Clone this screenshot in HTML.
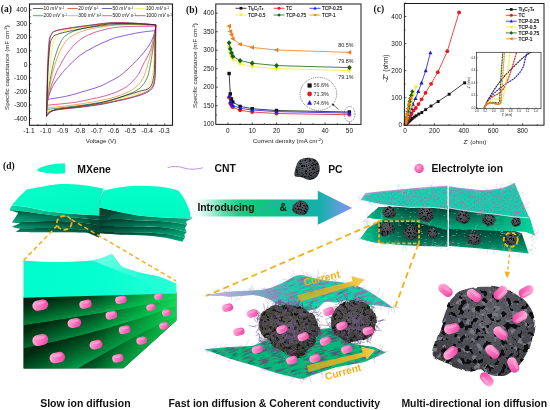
<!DOCTYPE html>
<html><head><meta charset="utf-8"><title>Figure</title>
<style>html,body{margin:0;padding:0;background:#fff;}svg{display:block;}
svg text{font-family:"Liberation Sans",sans-serif;}</style></head>
<body>
<svg width="550" height="410" viewBox="0 0 550 410">
<rect width="550" height="410" fill="#ffffff"/>
<g id="panel_a">
<g fill="none" stroke-width="0.75" stroke-linejoin="round">
<path d="M47.2 99.4C48.2 97.0 51.2 89.0 53.4 85.1C55.5 81.1 58.2 78.2 60.1 75.7C62.0 73.2 63.2 71.8 64.8 70.0C66.4 68.2 66.9 67.5 69.5 65.0C72.1 62.5 76.2 58.2 80.2 55.2C84.2 52.2 88.7 49.8 93.6 47.2C98.5 44.6 105.3 41.6 109.7 39.8C114.1 38.0 115.0 37.7 120.1 36.5C125.2 35.3 134.3 33.4 140.2 32.4C146.1 31.4 153.0 30.9 155.6 30.6M155.6 30.6C154.6 32.9 152.2 40.2 149.6 44.5C147.0 48.8 143.1 53.2 140.2 56.6C137.3 60.0 135.5 61.8 132.2 65.0C128.8 68.2 124.3 72.7 120.1 75.7C115.8 78.7 110.0 81.3 106.7 83.1C103.4 84.9 103.3 85.1 100.0 86.3C96.7 87.5 92.4 88.9 86.9 90.5C81.4 92.1 73.4 94.6 66.8 96.1C60.2 97.6 50.5 98.9 47.2 99.4" stroke="#6a28c8"/>
<path d="M47.0 105.2C47.6 102.3 49.2 93.2 50.7 87.8C52.2 82.4 54.6 76.7 56.1 73.0C57.6 69.3 58.2 68.7 60.0 65.5C61.8 62.3 63.9 57.9 66.8 53.9C69.7 49.9 73.5 45.1 77.5 41.8C81.5 38.4 85.6 36.0 91.0 33.8C96.4 31.6 103.7 29.6 109.7 28.4C115.7 27.2 119.1 27.0 126.8 26.6C134.5 26.2 150.9 26.3 155.7 26.2M155.7 26.2C154.9 29.9 153.1 42.0 151.0 48.5C148.9 55.0 145.2 60.5 142.9 65.0C140.7 69.5 140.2 72.1 137.5 75.7C134.8 79.3 130.8 83.6 126.8 86.5C122.8 89.4 117.9 91.4 113.4 93.2C108.9 95.0 103.3 96.3 100.0 97.2C96.7 98.1 98.0 97.6 93.6 98.5C89.2 99.4 81.3 101.4 73.5 102.5C65.7 103.6 51.4 104.8 47.0 105.2" stroke="#d42a78"/>
<path d="M46.9 107.4C47.2 104.5 47.9 96.2 49.0 90.0C50.1 83.8 51.8 76.0 53.4 70.0C55.0 64.0 56.8 58.6 58.8 53.9C60.8 49.2 63.0 44.9 65.5 41.8C68.0 38.7 69.9 37.1 73.5 35.1C77.1 33.1 81.3 31.3 86.9 29.8C92.5 28.3 99.8 26.9 107.0 26.0C114.2 25.1 121.9 24.7 130.0 24.6C138.1 24.5 151.5 25.3 155.8 25.4M155.8 25.4C155.4 28.1 155.0 35.2 153.6 41.8C152.2 48.4 149.4 58.9 147.6 65.0C145.8 71.1 145.0 74.6 142.9 78.4C140.8 82.2 138.0 85.2 134.9 87.8C131.8 90.4 128.8 91.9 124.1 93.8C119.4 95.7 114.0 97.5 106.7 99.2C99.4 100.9 87.8 102.8 80.0 104.0C72.2 105.2 65.5 106.0 60.0 106.6C54.5 107.2 49.1 107.3 46.9 107.4" stroke="#e8902a"/>
<path d="M46.8 109.5C47.1 106.2 47.6 96.6 48.5 90.0C49.4 83.4 50.8 76.0 52.0 70.0C53.2 64.0 54.4 58.8 56.0 53.9C57.6 49.0 59.5 43.9 61.5 40.5C63.5 37.1 65.1 35.7 68.2 33.8C71.3 31.9 76.0 30.3 80.2 29.1C84.4 27.9 88.1 27.6 93.6 26.8C99.1 26.1 106.1 25.0 113.0 24.6C119.9 24.2 127.9 24.2 135.0 24.3C142.1 24.4 152.3 25.1 155.8 25.2M155.8 25.2C155.6 27.7 155.2 33.4 154.3 40.0C153.4 46.6 151.5 58.6 150.3 65.0C149.1 71.4 148.6 74.6 146.9 78.4C145.2 82.2 143.1 85.2 140.2 87.8C137.3 90.4 134.0 91.9 129.5 93.8C125.0 95.7 118.3 97.8 113.4 99.2C108.5 100.7 105.6 101.5 100.0 102.5C94.4 103.5 86.7 104.6 80.0 105.5C73.3 106.4 65.5 107.3 60.0 108.0C54.5 108.7 49.0 109.2 46.8 109.5" stroke="#1f7a3a"/>
<path d="M46.7 111.5C46.9 107.9 47.5 96.9 48.0 90.0C48.5 83.1 49.3 76.9 50.0 70.0C50.7 63.1 51.1 53.9 52.0 48.5C52.9 43.1 53.8 40.6 55.4 37.8C57.0 35.0 58.5 33.3 61.5 31.8C64.5 30.3 68.2 30.0 73.5 29.0C78.8 28.0 87.0 26.5 93.6 25.6C100.2 24.7 106.1 23.9 113.0 23.6C119.9 23.3 127.9 23.6 135.0 23.8C142.1 24.0 152.3 24.8 155.8 25.0M155.8 25.0C155.7 27.5 155.4 33.3 155.0 40.0C154.6 46.7 154.2 58.6 153.6 65.0C153.0 71.4 152.5 74.7 151.6 78.4C150.7 82.1 150.0 84.8 148.3 87.1C146.6 89.4 145.2 90.9 141.6 92.5C138.0 94.1 133.7 94.6 126.8 96.5C119.9 98.4 107.8 102.2 100.0 103.9C92.2 105.6 86.7 105.7 80.0 106.5C73.3 107.3 64.7 108.2 60.0 108.8C55.3 109.4 54.2 109.5 52.0 110.0C49.8 110.5 47.6 111.2 46.7 111.5" stroke="#f2ea2c"/>
<path d="M46.6 114.0C46.7 110.0 47.2 97.6 47.4 90.0C47.6 82.4 47.6 76.6 47.9 68.6C48.2 60.6 48.8 47.5 49.4 41.8C50.0 36.1 50.6 36.3 51.5 34.5C52.4 32.7 52.2 32.1 54.8 31.1C57.3 30.1 60.3 29.5 66.8 28.4C73.3 27.3 85.8 25.7 93.6 24.7C101.4 23.7 106.5 22.9 113.4 22.6C120.3 22.4 127.9 22.8 135.0 23.2C142.1 23.6 152.3 24.5 155.8 24.8M155.8 24.8C155.8 27.3 155.7 33.3 155.7 40.0C155.7 46.7 155.7 58.6 155.6 65.0C155.5 71.4 155.4 74.7 155.0 78.4C154.6 82.1 154.3 84.8 153.0 87.1C151.7 89.4 150.2 90.8 146.9 92.5C143.7 94.2 139.1 95.6 133.5 97.2C127.9 98.8 119.0 100.7 113.4 101.9C107.8 103.1 105.6 103.7 100.0 104.6C94.4 105.5 86.3 106.5 80.0 107.3C73.7 108.1 66.2 108.7 62.0 109.2C57.8 109.7 56.8 109.9 55.0 110.2C53.2 110.5 52.1 110.8 51.0 111.2C49.9 111.6 49.1 111.9 48.4 112.4C47.7 112.9 46.9 113.7 46.6 114.0" stroke="#2a2a8c"/>
<path d="M46.5 116.0C46.6 111.7 46.8 97.9 47.0 90.0C47.2 82.1 47.2 76.6 47.5 68.6C47.8 60.6 48.4 47.6 49.0 42.0C49.6 36.4 50.1 36.6 51.0 34.8C51.9 33.0 51.9 32.4 54.5 31.4C57.1 30.4 60.3 29.9 66.8 28.8C73.3 27.7 85.8 26.0 93.6 25.0C101.4 24.0 106.5 23.2 113.4 22.9C120.3 22.6 127.9 23.1 135.0 23.4C142.1 23.7 152.3 24.6 155.8 24.8M155.8 24.8C155.8 27.3 155.6 33.3 155.5 40.0C155.4 46.7 155.5 58.6 155.3 65.0C155.2 71.4 155.1 74.8 154.6 78.4C154.1 82.0 153.8 84.2 152.4 86.5C151.0 88.8 149.2 90.3 146.0 92.0C142.8 93.7 138.9 95.0 133.5 96.6C128.1 98.1 119.0 100.1 113.4 101.3C107.8 102.5 105.6 103.1 100.0 104.0C94.4 104.9 86.3 106.0 80.0 106.8C73.7 107.6 66.0 108.4 62.0 108.9C58.0 109.4 57.7 109.5 56.0 109.8C54.3 110.1 53.1 110.5 52.0 111.0C50.9 111.5 50.1 112.0 49.4 112.6C48.7 113.2 48.1 113.8 47.6 114.4C47.1 115.0 46.7 115.7 46.5 116.0" stroke="#d8262a"/>
<path d="M46.5 116.6C46.6 112.2 47.0 98.0 47.2 90.0C47.5 82.0 47.5 76.1 48.0 68.6C48.5 61.1 49.3 50.0 50.0 45.0C50.7 40.0 51.1 40.1 52.0 38.5C52.9 36.9 52.9 36.2 55.4 35.1C57.9 34.0 60.4 33.2 66.8 31.8C73.2 30.4 85.8 27.8 93.6 26.4C101.4 25.0 106.5 24.0 113.4 23.6C120.3 23.2 127.9 23.6 135.0 23.8C142.1 24.0 152.3 24.6 155.8 24.8M155.8 24.8C155.7 27.3 155.2 33.3 155.0 40.0C154.8 46.7 154.9 58.6 154.6 65.0C154.3 71.4 154.2 74.6 153.4 78.4C152.6 82.2 151.8 85.7 149.6 87.8C147.4 89.9 144.0 89.9 140.2 91.1C136.4 92.3 131.3 93.8 126.8 95.2C122.3 96.6 117.9 98.2 113.4 99.5C108.9 100.8 105.6 101.9 100.0 103.0C94.4 104.1 86.3 105.3 80.0 106.2C73.7 107.1 65.9 107.9 62.0 108.4C58.1 108.9 58.1 109.0 56.5 109.4C54.9 109.8 53.7 110.3 52.6 110.8C51.5 111.3 50.6 112.0 49.8 112.6C49.0 113.2 48.3 113.9 47.8 114.6C47.2 115.3 46.7 116.3 46.5 116.6" stroke="#222222"/>
</g>
<rect x="29.5" y="4.0" width="143.0" height="121.3" fill="none" stroke="#1a1a1a" stroke-width="1.1"/>
<path d="M38.0 125.3v-1.2M46.4 125.3v-2M54.9 125.3v-1.2M63.3 125.3v-2M71.8 125.3v-1.2M80.2 125.3v-2M88.7 125.3v-1.2M97.1 125.3v-2M105.6 125.3v-1.2M114.0 125.3v-2M122.5 125.3v-1.2M130.9 125.3v-2M139.4 125.3v-1.2M147.8 125.3v-2M156.2 125.3v-1.2M164.7 125.3v-2M29.5 118.6h2M29.5 111.8h1.2M29.5 105.0h2M29.5 98.2h1.2M29.5 91.4h2M29.5 84.7h1.2M29.5 77.9h2M29.5 71.1h1.2M29.5 64.3h2M29.5 57.5h1.2M29.5 50.7h2M29.5 43.9h1.2M29.5 37.2h2M29.5 30.4h1.2M29.5 23.6h2M29.5 16.8h1.2M29.5 10.0h2" stroke="#1a1a1a" stroke-width="0.7" fill="none"/>
<g font-size="6.6" fill="#111">
<text x="28.9" y="133.4" text-anchor="middle">-1.1</text>
<text x="45.8" y="133.4" text-anchor="middle">-1.0</text>
<text x="62.7" y="133.4" text-anchor="middle">-0.9</text>
<text x="79.6" y="133.4" text-anchor="middle">-0.8</text>
<text x="96.5" y="133.4" text-anchor="middle">-0.7</text>
<text x="113.4" y="133.4" text-anchor="middle">-0.6</text>
<text x="130.3" y="133.4" text-anchor="middle">-0.5</text>
<text x="147.2" y="133.4" text-anchor="middle">-0.4</text>
<text x="164.1" y="133.4" text-anchor="middle">-0.3</text>
<text x="27.3" y="120.8" text-anchor="end">-400</text>
<text x="27.3" y="107.2" text-anchor="end">-300</text>
<text x="27.3" y="93.6" text-anchor="end">-200</text>
<text x="27.3" y="80.1" text-anchor="end">-100</text>
<text x="27.3" y="66.5" text-anchor="end">0</text>
<text x="27.3" y="52.9" text-anchor="end">100</text>
<text x="27.3" y="39.4" text-anchor="end">200</text>
<text x="27.3" y="25.8" text-anchor="end">300</text>
<text x="27.3" y="12.2" text-anchor="end">400</text>
</g>
<text x="101" y="143.2" font-size="6.2" fill="#222" text-anchor="middle">Voltage (V)</text>
<text transform="translate(9.4,67.6) rotate(-90)" font-size="6.2" fill="#222" text-anchor="middle">Specific capacitance (mF cm<tspan dy="-2" font-size="4">-2</tspan><tspan dy="2">)</tspan></text>
<text x="0.8" y="12.2" style="font-family:'Liberation Serif',serif" font-weight="bold" font-size="9.5" fill="#111">(a)</text>
<g font-size="4.9" fill="#111">
<path d="M32.9 8.5h10.4" stroke="#222222" stroke-width="0.7"/>
<text x="43.5" y="10.2">10 <tspan font-style="italic">mV s</tspan><tspan dy="-1.7" font-size="2.9">-1</tspan></text>
<path d="M67.6 8.5h10.4" stroke="#d8262a" stroke-width="0.7"/>
<text x="78.2" y="10.2">20 <tspan font-style="italic">mV s</tspan><tspan dy="-1.7" font-size="2.9">-1</tspan></text>
<path d="M101.9 8.5h10.4" stroke="#2a2a8c" stroke-width="0.7"/>
<text x="112.5" y="10.2">50 <tspan font-style="italic">mV s</tspan><tspan dy="-1.7" font-size="2.9">-1</tspan></text>
<path d="M135.3 8.5h10.4" stroke="#f2ea2c" stroke-width="0.7"/>
<text x="145.9" y="10.2">100 <tspan font-style="italic">mV s</tspan><tspan dy="-1.7" font-size="2.9">-1</tspan></text>
<path d="M32.9 15.7h10.4" stroke="#1f7a3a" stroke-width="0.7"/>
<text x="43.5" y="17.4">200 <tspan font-style="italic">mV s</tspan><tspan dy="-1.7" font-size="2.9">-1</tspan></text>
<path d="M67.6 15.7h10.4" stroke="#e8902a" stroke-width="0.7"/>
<text x="78.2" y="17.4">300 <tspan font-style="italic">mV s</tspan><tspan dy="-1.7" font-size="2.9">-1</tspan></text>
<path d="M101.9 15.7h10.4" stroke="#d42a78" stroke-width="0.7"/>
<text x="112.5" y="17.4">500 <tspan font-style="italic">mV s</tspan><tspan dy="-1.7" font-size="2.9">-1</tspan></text>
<path d="M135.3 15.7h10.4" stroke="#6a28c8" stroke-width="0.7"/>
<text x="145.9" y="17.4">1000 <tspan font-style="italic">mV s</tspan><tspan dy="-1.7" font-size="2.9">-1</tspan></text>
</g>
</g>
<g id="panel_b">
<path d="M229.1 47.2L230.3 53.5L231.5 56.9L232.8 59.1L240.1 63.9L252.2 66.5L276.5 68.7L349.4 70.5" fill="none" stroke="#f5ee1c" stroke-width="0.8"/>
<path d="M229.1 49.9L231.4 45.4L226.8 45.4Z" fill="#f5ee1c"/>
<path d="M230.3 56.2L232.6 51.7L228.0 51.7Z" fill="#f5ee1c"/>
<path d="M231.5 59.5L233.8 55.0L229.2 55.0Z" fill="#f5ee1c"/>
<path d="M232.8 61.7L235.1 57.2L230.5 57.2Z" fill="#f5ee1c"/>
<path d="M240.1 66.5L242.4 62.0L237.8 62.0Z" fill="#f5ee1c"/>
<path d="M252.2 69.1L254.5 64.6L249.9 64.6Z" fill="#f5ee1c"/>
<path d="M276.5 71.3L278.8 66.9L274.2 66.9Z" fill="#f5ee1c"/>
<path d="M349.4 73.2L351.7 68.7L347.1 68.7Z" fill="#f5ee1c"/>
<path d="M229.1 42.8L230.3 48.9L231.5 52.9L232.8 56.3L240.1 60.6L252.2 63.2L276.5 65.6L349.4 67.6" fill="none" stroke="#14640f" stroke-width="0.8"/>
<path d="M229.1 40.2L231.5 42.8L229.1 45.4L226.7 42.8Z" fill="#14640f"/>
<path d="M230.3 46.3L232.7 48.9L230.3 51.5L227.9 48.9Z" fill="#14640f"/>
<path d="M231.5 50.3L234.0 52.9L231.5 55.5L229.1 52.9Z" fill="#14640f"/>
<path d="M232.8 53.7L235.2 56.3L232.8 58.9L230.3 56.3Z" fill="#14640f"/>
<path d="M240.1 57.9L242.5 60.6L240.1 63.2L237.6 60.6Z" fill="#14640f"/>
<path d="M252.2 60.5L254.6 63.2L252.2 65.8L249.8 63.2Z" fill="#14640f"/>
<path d="M276.5 62.9L278.9 65.6L276.5 68.2L274.1 65.6Z" fill="#14640f"/>
<path d="M349.4 64.9L351.8 67.6L349.4 70.2L347.0 67.6Z" fill="#14640f"/>
<path d="M229.1 26.1L230.3 31.5L231.5 34.8L232.8 38.7L240.1 44.3L252.2 47.4L276.5 50.0L349.4 52.4" fill="none" stroke="#ee7d1a" stroke-width="0.8"/>
<path d="M226.5 26.1L231.0 23.8L231.0 28.4Z" fill="#ee7d1a"/>
<path d="M227.7 31.5L232.2 29.2L232.2 33.8Z" fill="#ee7d1a"/>
<path d="M228.9 34.8L233.4 32.5L233.4 37.1Z" fill="#ee7d1a"/>
<path d="M230.1 38.7L234.6 36.4L234.6 41.0Z" fill="#ee7d1a"/>
<path d="M237.4 44.3L241.9 42.0L241.9 46.6Z" fill="#ee7d1a"/>
<path d="M249.6 47.4L254.0 45.1L254.0 49.7Z" fill="#ee7d1a"/>
<path d="M273.9 50.0L278.3 47.7L278.3 52.3Z" fill="#ee7d1a"/>
<path d="M346.8 52.4L351.2 50.1L351.2 54.7Z" fill="#ee7d1a"/>
<path d="M229.1 73.5L230.3 93.9L231.5 99.0L232.8 102.0L240.1 106.4L252.2 108.7L276.5 110.5L349.4 112.0" fill="none" stroke="#111111" stroke-width="0.8"/>
<rect x="227.4" y="71.8" width="3.4" height="3.4" fill="#111111"/>
<rect x="228.6" y="92.2" width="3.4" height="3.4" fill="#111111"/>
<rect x="229.8" y="97.3" width="3.4" height="3.4" fill="#111111"/>
<rect x="231.1" y="100.3" width="3.4" height="3.4" fill="#111111"/>
<rect x="238.4" y="104.7" width="3.4" height="3.4" fill="#111111"/>
<rect x="250.5" y="107.0" width="3.4" height="3.4" fill="#111111"/>
<rect x="274.8" y="108.8" width="3.4" height="3.4" fill="#111111"/>
<rect x="347.7" y="110.3" width="3.4" height="3.4" fill="#111111"/>
<path d="M229.1 97.6L230.3 103.5L231.5 105.7L232.8 107.2L240.1 110.3L252.2 112.0L276.5 113.5L349.4 114.8" fill="none" stroke="#e8191c" stroke-width="0.8"/>
<circle cx="229.1" cy="97.6" r="1.9" fill="#e8191c"/>
<circle cx="230.3" cy="103.5" r="1.9" fill="#e8191c"/>
<circle cx="231.5" cy="105.7" r="1.9" fill="#e8191c"/>
<circle cx="232.8" cy="107.2" r="1.9" fill="#e8191c"/>
<circle cx="240.1" cy="110.3" r="1.9" fill="#e8191c"/>
<circle cx="252.2" cy="112.0" r="1.9" fill="#e8191c"/>
<circle cx="276.5" cy="113.5" r="1.9" fill="#e8191c"/>
<circle cx="349.4" cy="114.8" r="1.9" fill="#e8191c"/>
<path d="M229.1 96.1L230.3 101.6L231.5 103.9L232.8 105.3L240.1 108.3L252.2 110.0L276.5 111.6L349.4 113.1" fill="none" stroke="#1a1ad8" stroke-width="0.8"/>
<path d="M229.1 93.8L231.1 97.7L227.1 97.7Z" fill="#1a1ad8"/>
<path d="M230.3 99.3L232.3 103.2L228.3 103.2Z" fill="#1a1ad8"/>
<path d="M231.5 101.6L233.5 105.5L229.5 105.5Z" fill="#1a1ad8"/>
<path d="M232.8 103.0L234.8 106.9L230.8 106.9Z" fill="#1a1ad8"/>
<path d="M240.1 106.0L242.1 109.9L238.1 109.9Z" fill="#1a1ad8"/>
<path d="M252.2 107.7L254.2 111.6L250.2 111.6Z" fill="#1a1ad8"/>
<path d="M276.5 109.3L278.5 113.2L274.5 113.2Z" fill="#1a1ad8"/>
<path d="M349.4 110.8L351.4 114.7L347.4 114.7Z" fill="#1a1ad8"/>
<rect x="215.8" y="4.0" width="145.2" height="120.4" fill="none" stroke="#1a1a1a" stroke-width="1"/>
<path d="M227.9 124.4v-2M240.1 124.4v-1.2M252.2 124.4v-2M264.4 124.4v-1.2M276.5 124.4v-2M288.7 124.4v-1.2M300.8 124.4v-2M313.0 124.4v-1.2M325.1 124.4v-2M337.2 124.4v-1.2M349.4 124.4v-2M215.8 115.0h1.2M215.8 105.7h2M215.8 96.5h1.2M215.8 87.2h2M215.8 78.0h1.2M215.8 68.7h2M215.8 59.5h1.2M215.8 50.2h2M215.8 41.0h1.2M215.8 31.7h2M215.8 22.4h1.2M215.8 13.2h2" stroke="#1a1a1a" stroke-width="0.7" fill="none"/>
<g font-size="6.4" fill="#111">
<text x="227.9" y="133.2" text-anchor="middle">0</text>
<text x="252.2" y="133.2" text-anchor="middle">10</text>
<text x="276.5" y="133.2" text-anchor="middle">20</text>
<text x="300.8" y="133.2" text-anchor="middle">30</text>
<text x="325.1" y="133.2" text-anchor="middle">40</text>
<text x="349.4" y="133.2" text-anchor="middle">50</text>
<text x="214" y="126.4" text-anchor="end">100</text>
<text x="214" y="107.9" text-anchor="end">150</text>
<text x="214" y="89.4" text-anchor="end">200</text>
<text x="214" y="70.9" text-anchor="end">250</text>
<text x="214" y="52.4" text-anchor="end">300</text>
<text x="214" y="33.9" text-anchor="end">350</text>
<text x="214" y="15.4" text-anchor="end">400</text>
</g>
<text x="288" y="143.4" font-size="6.2" fill="#222" text-anchor="middle">Current density (mA cm<tspan dy="-2" font-size="4">-2</tspan><tspan dy="2">)</tspan></text>
<text transform="translate(196.8,65.6) rotate(-90)" font-size="6.2" fill="#222" text-anchor="middle">Specific capacitance (mF cm<tspan dy="-2" font-size="4">-2</tspan><tspan dy="2">)</tspan></text>
<text x="186" y="12.6" style="font-family:'Liberation Serif',serif" font-weight="bold" font-size="9.5" fill="#111">(b)</text>
<g font-size="4.7" fill="#111">
<path d="M235.5 8.3h11" stroke="#111111" stroke-width="0.8"/>
<rect x="239.6" y="6.9" width="2.7" height="2.7" fill="#111111"/>
<text x="248.0" y="10.0" stroke="#111" stroke-width="0.15">Ti₃C₂Tₓ</text>
<path d="M273.5 8.3h11" stroke="#e8191c" stroke-width="0.8"/>
<circle cx="279.0" cy="8.3" r="1.5" fill="#e8191c"/>
<text x="286.0" y="10.0" stroke="#111" stroke-width="0.15">TC</text>
<path d="M309.5 8.3h11" stroke="#1a1ad8" stroke-width="0.8"/>
<path d="M315.0 6.5L316.6 9.6L313.4 9.6Z" fill="#1a1ad8"/>
<text x="322.0" y="10.0" stroke="#111" stroke-width="0.15">TCP-0.25</text>
<path d="M235.5 15.0h11" stroke="#f5ee1c" stroke-width="0.8"/>
<path d="M241.0 16.8L242.6 13.7L239.4 13.7Z" fill="#f5ee1c"/>
<text x="248.0" y="16.7" stroke="#111" stroke-width="0.15">TCP-0.5</text>
<path d="M273.5 15.0h11" stroke="#14640f" stroke-width="0.8"/>
<path d="M279.0 13.2L280.7 15.0L279.0 16.8L277.3 15.0Z" fill="#14640f"/>
<text x="286.0" y="16.7" stroke="#111" stroke-width="0.15">TCP-0.75</text>
<path d="M309.5 15.0h11" stroke="#ee7d1a" stroke-width="0.8"/>
<path d="M313.2 15.0L316.3 13.4L316.3 16.6Z" fill="#ee7d1a"/>
<text x="322.0" y="16.7" stroke="#111" stroke-width="0.15">TCP-1</text>
</g>
<g font-size="5.4" fill="#222">
<text x="338.2" y="46.6">80.5%</text>
<text x="338.2" y="63">79.8%</text>
<text x="338.2" y="78.6">79.1%</text>
<text x="313.4" y="87.4">56.6%</text>
<text x="313.4" y="96">71.3%</text>
<text x="313.4" y="104.6">74.6%</text>
</g>
<rect x="307.5" y="83.4" width="4.2" height="4.2" fill="#111111"/>
<circle cx="309.6" cy="94.0" r="2.4" fill="#e8191c"/>
<path d="M309.6 99.9L312.1 104.8L307.1 104.8Z" fill="#1a1ad8"/>
<ellipse cx="318.4" cy="93.8" rx="18.3" ry="16.5" fill="none" stroke="#222" stroke-width="0.6" stroke-dasharray="0.9 1"/>
<ellipse cx="349.6" cy="114" rx="5.4" ry="7.6" fill="none" stroke="#222" stroke-width="0.6" stroke-dasharray="0.9 1"/>
<path d="M338.6 109.5L332.4 104.2" stroke="#222" stroke-width="0.6" fill="none"/><path d="M331.6 103.5l3 1l-1.6 1.8z" fill="#222"/>
</g>
<g id="panel_c">
<path d="M405.6 124.4L406.5 123.8L407.4 122.8L408.4 121.8L409.4 120.9L410.3 120.0L411.3 119.1L412.3 118.3L414.2 117.0L416.1 115.7L418.7 114.0L421.7 112.5L425.6 109.6L431.0 106.0L438.1 101.5L449.1 94.2L464.6 82.8" fill="none" stroke="#111111" stroke-width="0.8"/>
<rect x="404.2" y="123.0" width="2.9" height="2.9" fill="#111111"/>
<rect x="405.1" y="122.4" width="2.9" height="2.9" fill="#111111"/>
<rect x="406.0" y="121.4" width="2.9" height="2.9" fill="#111111"/>
<rect x="407.0" y="120.4" width="2.9" height="2.9" fill="#111111"/>
<rect x="408.0" y="119.5" width="2.9" height="2.9" fill="#111111"/>
<rect x="408.9" y="118.6" width="2.9" height="2.9" fill="#111111"/>
<rect x="409.9" y="117.7" width="2.9" height="2.9" fill="#111111"/>
<rect x="410.9" y="116.9" width="2.9" height="2.9" fill="#111111"/>
<rect x="412.8" y="115.6" width="2.9" height="2.9" fill="#111111"/>
<rect x="414.7" y="114.3" width="2.9" height="2.9" fill="#111111"/>
<rect x="417.3" y="112.6" width="2.9" height="2.9" fill="#111111"/>
<rect x="420.3" y="111.1" width="2.9" height="2.9" fill="#111111"/>
<rect x="424.2" y="108.2" width="2.9" height="2.9" fill="#111111"/>
<rect x="429.6" y="104.6" width="2.9" height="2.9" fill="#111111"/>
<rect x="436.7" y="100.1" width="2.9" height="2.9" fill="#111111"/>
<rect x="447.7" y="92.8" width="2.9" height="2.9" fill="#111111"/>
<rect x="463.2" y="81.4" width="2.9" height="2.9" fill="#111111"/>
<path d="M405.6 124.2L406.4 122.8L407.3 121.0L408.3 119.0L409.3 117.2L410.4 115.3L411.6 113.5L413.6 110.5L415.8 108.0L418.5 104.1L421.6 99.3L425.5 92.8L431.1 83.8L437.8 72.2L447.3 51.2L459.1 12.4" fill="none" stroke="#e8191c" stroke-width="0.8"/>
<circle cx="405.6" cy="124.2" r="1.9" fill="#e8191c"/>
<circle cx="406.4" cy="122.8" r="1.9" fill="#e8191c"/>
<circle cx="407.3" cy="121.0" r="1.9" fill="#e8191c"/>
<circle cx="408.3" cy="119.0" r="1.9" fill="#e8191c"/>
<circle cx="409.3" cy="117.2" r="1.9" fill="#e8191c"/>
<circle cx="410.4" cy="115.3" r="1.9" fill="#e8191c"/>
<circle cx="411.6" cy="113.5" r="1.9" fill="#e8191c"/>
<circle cx="413.6" cy="110.5" r="1.9" fill="#e8191c"/>
<circle cx="415.8" cy="108.0" r="1.9" fill="#e8191c"/>
<circle cx="418.5" cy="104.1" r="1.9" fill="#e8191c"/>
<circle cx="421.6" cy="99.3" r="1.9" fill="#e8191c"/>
<circle cx="425.5" cy="92.8" r="1.9" fill="#e8191c"/>
<circle cx="431.1" cy="83.8" r="1.9" fill="#e8191c"/>
<circle cx="437.8" cy="72.2" r="1.9" fill="#e8191c"/>
<circle cx="447.3" cy="51.2" r="1.9" fill="#e8191c"/>
<circle cx="459.1" cy="12.4" r="1.9" fill="#e8191c"/>
<path d="M405.5 124.1L406.2 122.4L407.0 120.4L407.9 118.0L408.9 115.2L410.0 112.0L411.4 108.3L412.9 104.1L415.5 98.5L418.3 91.5L421.5 82.9L425.7 70.7L430.4 52.7" fill="none" stroke="#1a1ad8" stroke-width="0.8"/>
<path d="M405.5 121.8L407.5 125.7L403.5 125.7Z" fill="#1a1ad8"/>
<path d="M406.2 120.1L408.2 124.0L404.2 124.0Z" fill="#1a1ad8"/>
<path d="M407.0 118.1L409.0 122.0L405.0 122.0Z" fill="#1a1ad8"/>
<path d="M407.9 115.7L409.9 119.6L405.9 119.6Z" fill="#1a1ad8"/>
<path d="M408.9 112.9L410.9 116.8L406.9 116.8Z" fill="#1a1ad8"/>
<path d="M410.0 109.7L412.0 113.6L408.0 113.6Z" fill="#1a1ad8"/>
<path d="M411.4 106.0L413.4 109.9L409.4 109.9Z" fill="#1a1ad8"/>
<path d="M412.9 101.8L414.9 105.7L410.9 105.7Z" fill="#1a1ad8"/>
<path d="M415.5 96.2L417.5 100.1L413.5 100.1Z" fill="#1a1ad8"/>
<path d="M418.3 89.2L420.3 93.1L416.3 93.1Z" fill="#1a1ad8"/>
<path d="M421.5 80.6L423.5 84.5L419.5 84.5Z" fill="#1a1ad8"/>
<path d="M425.7 68.4L427.7 72.3L423.7 72.3Z" fill="#1a1ad8"/>
<path d="M430.4 50.4L432.4 54.3L428.4 54.3Z" fill="#1a1ad8"/>
<path d="M405.5 124.0L406.0 122.4L406.6 120.4L407.3 118.0L408.0 115.4L408.8 112.4L409.8 108.8L410.7 105.6L411.6 102.1L413.6 95.0L415.8 87.3" fill="none" stroke="#f5ee1c" stroke-width="0.8"/>
<path d="M405.5 126.5L407.7 122.2L403.3 122.2Z" fill="#f5ee1c"/>
<path d="M406.0 124.9L408.2 120.6L403.8 120.6Z" fill="#f5ee1c"/>
<path d="M406.6 122.9L408.8 118.6L404.4 118.6Z" fill="#f5ee1c"/>
<path d="M407.3 120.5L409.5 116.2L405.1 116.2Z" fill="#f5ee1c"/>
<path d="M408.0 117.9L410.2 113.6L405.8 113.6Z" fill="#f5ee1c"/>
<path d="M408.8 114.9L411.0 110.6L406.6 110.6Z" fill="#f5ee1c"/>
<path d="M409.8 111.3L412.0 107.0L407.6 107.0Z" fill="#f5ee1c"/>
<path d="M410.7 108.1L412.9 103.8L408.5 103.8Z" fill="#f5ee1c"/>
<path d="M411.6 104.6L413.8 100.3L409.4 100.3Z" fill="#f5ee1c"/>
<path d="M413.6 97.5L415.8 93.2L411.4 93.2Z" fill="#f5ee1c"/>
<path d="M415.8 89.8L418.0 85.5L413.6 85.5Z" fill="#f5ee1c"/>
<path d="M405.4 124.0L405.8 122.4L406.3 120.2L406.8 117.8L407.4 115.0L408.0 111.8L408.6 108.4L409.1 105.0L409.7 101.6L410.4 98.4L411.2 95.4L412.3 91.5" fill="none" stroke="#14640f" stroke-width="0.8"/>
<path d="M405.4 121.7L407.5 124.0L405.4 126.3L403.3 124.0Z" fill="#14640f"/>
<path d="M405.8 120.1L407.9 122.4L405.8 124.7L403.7 122.4Z" fill="#14640f"/>
<path d="M406.3 117.9L408.4 120.2L406.3 122.5L404.2 120.2Z" fill="#14640f"/>
<path d="M406.8 115.5L408.9 117.8L406.8 120.1L404.7 117.8Z" fill="#14640f"/>
<path d="M407.4 112.7L409.5 115.0L407.4 117.3L405.3 115.0Z" fill="#14640f"/>
<path d="M408.0 109.5L410.1 111.8L408.0 114.1L405.9 111.8Z" fill="#14640f"/>
<path d="M408.6 106.1L410.7 108.4L408.6 110.7L406.5 108.4Z" fill="#14640f"/>
<path d="M409.1 102.7L411.2 105.0L409.1 107.3L407.0 105.0Z" fill="#14640f"/>
<path d="M409.7 99.3L411.8 101.6L409.7 103.9L407.6 101.6Z" fill="#14640f"/>
<path d="M410.4 96.1L412.5 98.4L410.4 100.7L408.3 98.4Z" fill="#14640f"/>
<path d="M411.2 93.1L413.3 95.4L411.2 97.7L409.1 95.4Z" fill="#14640f"/>
<path d="M412.3 89.2L414.4 91.5L412.3 93.8L410.2 91.5Z" fill="#14640f"/>
<path d="M405.4 124.2L405.7 122.4L406.0 120.4L406.3 118.4L406.6 116.2L406.9 113.8L407.8 108.6L408.8 104.0L410.6 98.0" fill="none" stroke="#ee7d1a" stroke-width="0.8"/>
<path d="M403.2 124.2L406.9 122.3L406.9 126.1Z" fill="#ee7d1a"/>
<path d="M403.5 122.4L407.2 120.5L407.2 124.3Z" fill="#ee7d1a"/>
<path d="M403.8 120.4L407.5 118.5L407.5 122.3Z" fill="#ee7d1a"/>
<path d="M404.1 118.4L407.8 116.5L407.8 120.3Z" fill="#ee7d1a"/>
<path d="M404.4 116.2L408.1 114.3L408.1 118.1Z" fill="#ee7d1a"/>
<path d="M404.7 113.8L408.4 111.9L408.4 115.7Z" fill="#ee7d1a"/>
<path d="M405.6 108.6L409.3 106.7L409.3 110.5Z" fill="#ee7d1a"/>
<path d="M406.6 104.0L410.3 102.1L410.3 105.9Z" fill="#ee7d1a"/>
<path d="M408.4 98.0L412.1 96.1L412.1 99.9Z" fill="#ee7d1a"/>
<rect x="404.4" y="3.5" width="139.6" height="121.7" fill="none" stroke="#1a1a1a" stroke-width="1"/>
<path d="M419.7 125.2v-1.2M434.4 125.2v-2M449.1 125.2v-1.2M463.8 125.2v-2M478.5 125.2v-1.2M493.2 125.2v-2M507.9 125.2v-1.2M522.6 125.2v-2M537.3 125.2v-1.2M404.4 111.2h1.2M404.4 97.7h2M404.4 84.1h1.2M404.4 70.6h2M404.4 57.1h1.2M404.4 43.5h2M404.4 30.0h1.2M404.4 16.5h2M404.4 3.0h1.2" stroke="#1a1a1a" stroke-width="0.7" fill="none"/>
<g font-size="6.4" fill="#111">
<text x="405.0" y="133.2" text-anchor="middle">0</text>
<text x="434.4" y="133.2" text-anchor="middle">200</text>
<text x="463.8" y="133.2" text-anchor="middle">400</text>
<text x="493.2" y="133.2" text-anchor="middle">600</text>
<text x="522.6" y="133.2" text-anchor="middle">800</text>
<text x="402" y="126.9" text-anchor="end">0</text>
<text x="402" y="99.9" text-anchor="end">100</text>
<text x="402" y="72.8" text-anchor="end">200</text>
<text x="402" y="45.8" text-anchor="end">300</text>
<text x="402" y="18.7" text-anchor="end">400</text>
</g>
<text x="475" y="143.6" font-size="6.2" fill="#222" text-anchor="middle">Z' (ohm)</text>
<text transform="translate(388.2,68.4) rotate(-90)" font-size="6.6" fill="#111" text-anchor="middle">-Z" (ohm)</text>
<text x="373.6" y="12.2" style="font-family:'Liberation Serif',serif" font-weight="bold" font-size="9.5" fill="#111">(c)</text>
<g font-size="4.8" fill="#111">
<path d="M505.8 9.5h11" stroke="#111111" stroke-width="0.8"/>
<rect x="509.9" y="8.1" width="2.7" height="2.7" fill="#111111"/>
<text x="518.6" y="11.2" stroke="#111" stroke-width="0.18">Ti₃C₂Tₓ</text>
<path d="M505.8 15.3h11" stroke="#e8191c" stroke-width="0.8"/>
<circle cx="511.3" cy="15.3" r="1.5" fill="#e8191c"/>
<text x="518.6" y="17.1" stroke="#111" stroke-width="0.18">TC</text>
<path d="M505.8 21.2h11" stroke="#1a1ad8" stroke-width="0.8"/>
<path d="M511.3 19.4L512.9 22.5L509.7 22.5Z" fill="#1a1ad8"/>
<text x="518.6" y="22.9" stroke="#111" stroke-width="0.18">TCP-0.25</text>
<path d="M505.8 27.0h11" stroke="#f5ee1c" stroke-width="0.8"/>
<path d="M511.3 28.9L512.9 25.8L509.7 25.8Z" fill="#f5ee1c"/>
<text x="518.6" y="28.7" stroke="#111" stroke-width="0.18">TCP-0.5</text>
<path d="M505.8 32.9h11" stroke="#14640f" stroke-width="0.8"/>
<path d="M511.3 31.1L513.0 32.9L511.3 34.7L509.6 32.9Z" fill="#14640f"/>
<text x="518.6" y="34.6" stroke="#111" stroke-width="0.18">TCP-0.75</text>
<path d="M505.8 38.8h11" stroke="#ee7d1a" stroke-width="0.8"/>
<path d="M509.5 38.8L512.6 37.1L512.6 40.4Z" fill="#ee7d1a"/>
<text x="518.6" y="40.5" stroke="#111" stroke-width="0.18">TCP-1</text>
</g>
<rect x="476.6" y="52.3" width="64.4" height="56.4" fill="#fff" stroke="none"/>
<clipPath id="insc"><rect x="476.6" y="52.3" width="64.4" height="56.4"/></clipPath>
<g clip-path="url(#insc)" fill="none">
<path d="M484.4 107.7C484.7 107.0 485.6 105.0 486.4 103.4C487.2 101.8 487.4 101.0 489.0 98.3C490.6 95.6 493.2 91.0 495.9 87.2C498.6 83.4 501.2 79.7 505.2 75.3C509.2 70.9 516.3 64.1 519.7 60.8C523.1 57.5 523.9 57.1 525.7 55.7C527.5 54.3 529.3 53.4 530.5 52.6C531.7 51.8 532.6 51.3 533.0 51.0" stroke="#111111" stroke-width="0.55"/>
<path d="M484.4 107.7C484.7 107.0 485.6 105.0 486.4 103.4C487.2 101.8 487.4 101.0 489.0 98.3C490.6 95.6 493.2 91.0 495.9 87.2C498.6 83.4 501.2 79.7 505.2 75.3C509.2 70.9 516.3 64.1 519.7 60.8C523.1 57.5 523.9 57.1 525.7 55.7C527.5 54.3 529.3 53.4 530.5 52.6C531.7 51.8 532.6 51.3 533.0 51.0" stroke="#111111" stroke-width="1.3" stroke-linecap="round" stroke-dasharray="0.1 2.6"/>
<path d="M484.4 107.7C484.7 107.0 485.4 104.9 486.0 103.6C486.6 102.2 486.8 101.3 488.2 99.6C489.6 97.9 492.2 95.1 494.2 93.2C496.2 91.3 498.0 89.8 500.1 88.1C502.2 86.4 504.7 84.6 507.0 83.0C509.3 81.4 511.8 80.3 513.8 78.7C515.8 77.1 517.3 75.6 518.9 73.6C520.5 71.6 522.1 69.4 523.2 66.8C524.3 64.2 524.7 60.5 525.4 58.2C526.1 55.9 527.0 54.3 527.4 53.1C527.8 51.9 527.9 51.4 528.0 51.0" stroke="#1a1ad8" stroke-width="0.55"/>
<path d="M484.4 107.7C484.7 107.0 485.4 104.9 486.0 103.6C486.6 102.2 486.8 101.3 488.2 99.6C489.6 97.9 492.2 95.1 494.2 93.2C496.2 91.3 498.0 89.8 500.1 88.1C502.2 86.4 504.7 84.6 507.0 83.0C509.3 81.4 511.8 80.3 513.8 78.7C515.8 77.1 517.3 75.6 518.9 73.6C520.5 71.6 522.1 69.4 523.2 66.8C524.3 64.2 524.7 60.5 525.4 58.2C526.1 55.9 527.0 54.3 527.4 53.1C527.8 51.9 527.9 51.4 528.0 51.0" stroke="#1a1ad8" stroke-width="1.3" stroke-linecap="round" stroke-dasharray="0.1 2.6"/>
<path d="M484.4 107.7C484.6 107.2 485.1 105.6 485.6 104.6C486.1 103.6 486.2 103.1 487.3 101.8C488.4 100.5 490.6 98.1 492.5 96.8C494.4 95.5 496.7 94.9 498.4 93.7C500.1 92.5 501.4 91.5 502.7 89.8C504.0 88.1 505.0 86.2 506.1 83.8C507.2 81.4 508.4 78.4 509.5 75.3C510.6 72.2 511.8 68.8 512.9 65.1C514.0 61.4 515.6 55.5 516.3 53.1C517.0 50.8 516.9 51.4 517.0 51.0" stroke="#e8191c" stroke-width="0.55"/>
<path d="M484.4 107.7C484.6 107.2 485.1 105.6 485.6 104.6C486.1 103.6 486.2 103.1 487.3 101.8C488.4 100.5 490.6 98.1 492.5 96.8C494.4 95.5 496.7 94.9 498.4 93.7C500.1 92.5 501.4 91.5 502.7 89.8C504.0 88.1 505.0 86.2 506.1 83.8C507.2 81.4 508.4 78.4 509.5 75.3C510.6 72.2 511.8 68.8 512.9 65.1C514.0 61.4 515.6 55.5 516.3 53.1C517.0 50.8 516.9 51.4 517.0 51.0" stroke="#e8191c" stroke-width="1.3" stroke-linecap="round" stroke-dasharray="0.1 2.6"/>
<path d="M484.4 107.7C484.7 107.2 485.4 105.5 486.0 104.6C486.6 103.7 487.0 103.3 488.2 102.4C489.4 101.5 491.4 99.9 493.3 99.4C495.2 98.9 497.7 99.5 499.3 99.2C500.9 98.9 501.9 98.6 502.7 97.5C503.5 96.4 503.8 95.0 504.4 92.4C505.0 89.8 505.5 85.8 506.1 82.1C506.7 78.4 507.2 74.8 507.8 70.2C508.4 65.6 509.6 57.7 510.0 54.5C510.4 51.3 510.3 51.6 510.4 51.0" stroke="#f5ee1c" stroke-width="0.55"/>
<path d="M484.4 107.7C484.7 107.2 485.4 105.5 486.0 104.6C486.6 103.7 487.0 103.3 488.2 102.4C489.4 101.5 491.4 99.9 493.3 99.4C495.2 98.9 497.7 99.5 499.3 99.2C500.9 98.9 501.9 98.6 502.7 97.5C503.5 96.4 503.8 95.0 504.4 92.4C505.0 89.8 505.5 85.8 506.1 82.1C506.7 78.4 507.2 74.8 507.8 70.2C508.4 65.6 509.6 57.7 510.0 54.5C510.4 51.3 510.3 51.6 510.4 51.0" stroke="#f5ee1c" stroke-width="1.3" stroke-linecap="round" stroke-dasharray="0.1 2.6"/>
<path d="M484.4 107.7C484.7 107.2 485.7 105.6 486.4 104.8C487.1 104.0 487.7 103.4 488.6 103.0C489.5 102.6 490.5 102.4 491.6 102.3C492.7 102.2 494.0 102.5 495.0 102.6C496.0 102.7 496.9 103.2 497.6 103.0C498.3 102.8 499.0 102.8 499.4 101.6C499.8 100.4 499.8 98.1 499.9 96.0C500.0 93.9 500.1 92.2 500.3 89.0C500.5 85.8 500.8 81.0 501.0 77.0C501.2 73.0 501.5 68.8 501.8 65.1C502.1 61.3 502.5 56.9 502.7 54.5C502.9 52.1 502.9 51.6 503.0 51.0" stroke="#14640f" stroke-width="0.55"/>
<path d="M484.4 107.7C484.7 107.2 485.7 105.6 486.4 104.8C487.1 104.0 487.7 103.4 488.6 103.0C489.5 102.6 490.5 102.4 491.6 102.3C492.7 102.2 494.0 102.5 495.0 102.6C496.0 102.7 496.9 103.2 497.6 103.0C498.3 102.8 499.0 102.8 499.4 101.6C499.8 100.4 499.8 98.1 499.9 96.0C500.0 93.9 500.1 92.2 500.3 89.0C500.5 85.8 500.8 81.0 501.0 77.0C501.2 73.0 501.5 68.8 501.8 65.1C502.1 61.3 502.5 56.9 502.7 54.5C502.9 52.1 502.9 51.6 503.0 51.0" stroke="#14640f" stroke-width="1.3" stroke-linecap="round" stroke-dasharray="0.1 2.6"/>
<path d="M484.4 107.7C484.6 107.3 485.2 106.1 485.8 105.4C486.4 104.8 487.0 104.2 487.8 103.8C488.6 103.4 489.6 103.0 490.7 103.0C491.8 103.0 493.4 103.4 494.5 103.6C495.6 103.8 496.7 104.2 497.6 104.2C498.6 104.2 499.6 104.1 500.2 103.4C500.8 102.7 500.9 102.1 501.2 100.0C501.5 97.9 501.6 94.5 501.8 90.7C502.1 86.9 502.4 81.3 502.7 77.0C503.0 72.7 503.2 68.8 503.5 65.1C503.8 61.4 504.2 57.1 504.4 54.8C504.6 52.4 504.6 51.6 504.7 51.0" stroke="#ee7d1a" stroke-width="0.55"/>
<path d="M484.4 107.7C484.6 107.3 485.2 106.1 485.8 105.4C486.4 104.8 487.0 104.2 487.8 103.8C488.6 103.4 489.6 103.0 490.7 103.0C491.8 103.0 493.4 103.4 494.5 103.6C495.6 103.8 496.7 104.2 497.6 104.2C498.6 104.2 499.6 104.1 500.2 103.4C500.8 102.7 500.9 102.1 501.2 100.0C501.5 97.9 501.6 94.5 501.8 90.7C502.1 86.9 502.4 81.3 502.7 77.0C503.0 72.7 503.2 68.8 503.5 65.1C503.8 61.4 504.2 57.1 504.4 54.8C504.6 52.4 504.6 51.6 504.7 51.0" stroke="#ee7d1a" stroke-width="1.3" stroke-linecap="round" stroke-dasharray="0.1 2.6"/>
<path d="M484.4 107.7C484.6 107.3 485.2 106.1 485.8 105.4C486.4 104.8 487.0 104.2 487.8 103.8C488.6 103.4 489.6 103.0 490.7 103.0C491.8 103.0 493.4 103.4 494.5 103.6C495.6 103.8 496.7 104.2 497.6 104.2C498.6 104.2 499.6 104.1 500.2 103.4C500.8 102.7 501.0 100.6 501.2 100.0" stroke="#ee7d1a" stroke-width="1.5"/>
</g>
<rect x="476.6" y="52.3" width="64.4" height="56.4" fill="none" stroke="#222" stroke-width="0.7"/>
<path d="M476.8 108.7v-1.2M485.2 108.7v-1.2M493.7 108.7v-1.2M502.1 108.7v-1.2M510.6 108.7v-1.2M519.0 108.7v-1.2M527.4 108.7v-1.2M535.9 108.7v-1.2M476.6 107.9h1.2M476.6 95.4h1.2M476.6 82.8h1.2M476.6 70.2h1.2M476.6 57.7h1.2" stroke="#222" stroke-width="0.5" fill="none"/>
<g font-size="2.8" fill="#222">
<text x="476.8" y="112.2" text-anchor="middle">0.0</text>
<text x="485.2" y="112.2" text-anchor="middle">0.2</text>
<text x="493.7" y="112.2" text-anchor="middle">0.4</text>
<text x="502.1" y="112.2" text-anchor="middle">0.6</text>
<text x="510.6" y="112.2" text-anchor="middle">0.8</text>
<text x="519.0" y="112.2" text-anchor="middle">1.0</text>
<text x="527.4" y="112.2" text-anchor="middle">1.2</text>
<text x="535.9" y="112.2" text-anchor="middle">1.4</text>
<text x="475.4" y="108.9" text-anchor="end">0.0</text>
<text x="475.4" y="96.4" text-anchor="end">0.2</text>
<text x="475.4" y="83.8" text-anchor="end">0.4</text>
<text x="475.4" y="71.2" text-anchor="end">0.6</text>
<text x="475.4" y="58.7" text-anchor="end">0.8</text>
<text x="507" y="116" text-anchor="middle">Z' (ohm)</text>
<text transform="translate(470.4,83) rotate(-90)" text-anchor="middle">-Z" (ohm)</text>
</g>
</g>
<g id="panel_d">
<defs>
<linearGradient id="gMX" x1="0" y1="0" x2="1" y2="1"><stop offset="0" stop-color="#08ffca"/><stop offset="1" stop-color="#00f6c0"/></linearGradient>
<linearGradient id="gMX2" x1="0" y1="0" x2="0" y2="1"><stop offset="0" stop-color="#04ffc9"/><stop offset="1" stop-color="#00f8c2"/></linearGradient>
<linearGradient id="gIon" x1="0" y1="0.35" x2="1" y2="0.65"><stop offset="0" stop-color="#ffb8dc"/><stop offset="0.3" stop-color="#fc86c6"/><stop offset="0.65" stop-color="#fa64b6"/><stop offset="1" stop-color="#ec48a4"/></linearGradient>
<radialGradient id="gIonR" cx="0.38" cy="0.35" r="0.7"><stop offset="0" stop-color="#ffb0da"/><stop offset="0.5" stop-color="#f970b8"/><stop offset="1" stop-color="#e84aa2"/></radialGradient>
<radialGradient id="gPC" cx="0.45" cy="0.35" r="0.75"><stop offset="0" stop-color="#5a5d63"/><stop offset="0.7" stop-color="#3d4045"/><stop offset="1" stop-color="#2a2c30"/></radialGradient>
<linearGradient id="gArrow" gradientUnits="userSpaceOnUse" x1="190" y1="0" x2="352" y2="0"><stop offset="0" stop-color="#ffffff"/><stop offset="0.05" stop-color="#f2fcf8"/><stop offset="0.12" stop-color="#b4f0da"/><stop offset="0.2" stop-color="#62dfae"/><stop offset="0.3" stop-color="#22cc8a"/><stop offset="0.4" stop-color="#10c87a"/><stop offset="0.56" stop-color="#10c08e"/><stop offset="0.72" stop-color="#10b4a2"/><stop offset="0.8" stop-color="#14b0aa"/><stop offset="0.9" stop-color="#50a2d0"/><stop offset="1" stop-color="#8890f0"/></linearGradient>
<filter id="pcf" x="-0.05" y="-0.05" width="1.1" height="1.1" color-interpolation-filters="sRGB">
<feTurbulence type="fractalNoise" baseFrequency="0.55" numOctaves="2" seed="7" result="n"/>
<feColorMatrix in="n" type="matrix" values="0 0 0 0 0.06  0 0 0 0 0.065  0 0 0 0 0.075  0 0 -9 0 4.2" result="dark"/>
<feComposite in="dark" in2="SourceGraphic" operator="atop"/>
</filter>
<filter id="pcfBig" x="-0.05" y="-0.05" width="1.1" height="1.1" color-interpolation-filters="sRGB">
<feTurbulence type="fractalNoise" baseFrequency="0.16" numOctaves="2" seed="11" result="n"/>
<feColorMatrix in="n" type="matrix" values="0 0 0 0 0.07  0 0 0 0 0.075  0 0 0 0 0.085  0 0 -14 0 6.2" result="dark"/>
<feTurbulence type="fractalNoise" baseFrequency="0.9" numOctaves="1" seed="3" result="n2"/>
<feColorMatrix in="n2" type="matrix" values="0 0 0 0 1  0 0 0 0 1  0 0 0 0 1  0 0 1.2 0 -0.5" result="lite"/>
<feComposite in="lite" in2="SourceGraphic" operator="atop" result="s1"/>
<feComposite in="dark" in2="s1" operator="atop"/>
</filter>
<filter id="cntf" x="0" y="0" width="1" height="1" color-interpolation-filters="sRGB">
<feTurbulence type="fractalNoise" baseFrequency="0.7 0.8" numOctaves="2" seed="5" result="n"/>
<feColorMatrix in="n" type="matrix" values="0 0 0 0 0.56  0 0 0 0 0.48  0 0 0 0 0.74  0 -7 0 0 3.0" result="lav"/>
<feComposite in="lav" in2="SourceGraphic" operator="atop"/>
</filter>
<filter id="cntf2" x="0" y="0" width="1" height="1" color-interpolation-filters="sRGB">
<feTurbulence type="fractalNoise" baseFrequency="0.35 1.1" numOctaves="2" seed="9" result="n"/>
<feColorMatrix in="n" type="matrix" values="0 0 0 0 0.62  0 0 0 0 0.52  0 0 0 0 0.80  0 -8 0 0 4.0" result="lav"/>
<feTurbulence type="fractalNoise" baseFrequency="0.4 1.3" numOctaves="1" seed="2" result="n2"/>
<feColorMatrix in="n2" type="matrix" values="0 0 0 0 0.04  0 0 0 0 0.30  0 0 0 0 0.20  -7 0 0 0 3.2" result="dk"/>
<feComposite in="dk" in2="SourceGraphic" operator="atop" result="s1"/>
<feComposite in="lav" in2="s1" operator="atop"/>
</filter>
<filter id="cntd" x="0" y="0" width="1" height="1" color-interpolation-filters="sRGB">
<feTurbulence type="fractalNoise" baseFrequency="0.25 0.9" numOctaves="2" seed="14" result="n"/>
<feColorMatrix in="n" type="matrix" values="0 0 0 0 0.45  0 0 0 0 0.55  0 0 0 0 0.62  0 -9 0 0 3.0" result="lav"/>
<feComposite in="lav" in2="SourceGraphic" operator="atop"/>
</filter>
<pattern id="xh" width="6" height="4.6" patternUnits="userSpaceOnUse" patternTransform="rotate(6)"><path d="M-0.5 4.98L6.5 -0.38M-0.5 -0.38L6.5 4.98" stroke="#8c80bc" stroke-width="0.8" fill="none"/></pattern>
</defs>
<text x="3" y="168.6" style="font-family:'Liberation Serif',serif" font-weight="bold" font-size="9.5" fill="#111">(d)</text>
<linearGradient id="gT2" gradientUnits="userSpaceOnUse" x1="0" y1="205" x2="0" y2="232"><stop offset="0" stop-color="#003426"/><stop offset="0.4" stop-color="#006a4e"/><stop offset="0.8" stop-color="#00a274"/><stop offset="1" stop-color="#00be8a"/></linearGradient>
<linearGradient id="gT3" gradientUnits="userSpaceOnUse" x1="0" y1="224" x2="0" y2="252"><stop offset="0" stop-color="#003024"/><stop offset="0.45" stop-color="#005c44"/><stop offset="0.85" stop-color="#008e66"/><stop offset="1" stop-color="#00a878"/></linearGradient>
<linearGradient id="gTL" gradientUnits="userSpaceOnUse" x1="360" y1="0" x2="410" y2="0"><stop offset="0" stop-color="#00d49c" stop-opacity="0.95"/><stop offset="0.45" stop-color="#00b886" stop-opacity="0.6"/><stop offset="1" stop-color="#00a070" stop-opacity="0"/></linearGradient>
<linearGradient id="gTR" gradientUnits="userSpaceOnUse" x1="470" y1="0" x2="536" y2="0"><stop offset="0" stop-color="#00a878" stop-opacity="0"/><stop offset="0.55" stop-color="#00c490" stop-opacity="0.65"/><stop offset="1" stop-color="#00dca4" stop-opacity="1"/></linearGradient>
<linearGradient id="gT1" gradientUnits="userSpaceOnUse" x1="362" y1="0" x2="530" y2="0"><stop offset="0" stop-color="#00e4aa"/><stop offset="0.5" stop-color="#00e0a6"/><stop offset="1" stop-color="#00dca2"/></linearGradient>
<path d="M360.5 238.5L367.8 228.4L376.9 222L390 217L447.4 220L447.4 246.8C441 246.6 434 246.4 428.1 246.2C419 245.8 410 245.4 400.7 244.9C391 244.2 382 243.2 373.3 242.2C369 241 364 239.8 360.5 238.5Z" fill="url(#gT3)" filter="url(#cntd)"/>
<path d="M360.5 238.5L367.8 228.4L376.9 222L390 217L447.4 220L447.4 246.8C441 246.6 434 246.4 428.1 246.2C419 245.8 410 245.4 400.7 244.9C391 244.2 382 243.2 373.3 242.2C369 241 364 239.8 360.5 238.5Z" fill="url(#gTL)"/>
<path d="M449 222L500 226L521.7 233.2L528.7 253.6C520 252.4 511 251.4 502 250.7C494 249.8 487 249.2 480 248.5C470 247.6 459 246.6 449 246Z" fill="url(#gT3)" filter="url(#cntd)"/>
<path d="M395.0 228.6C394.8 229.2 394.8 231.4 394.1 232.3C393.3 233.1 391.6 233.4 390.6 233.9C389.5 234.4 388.8 234.8 387.7 235.3C386.6 235.7 385.3 236.7 384.2 236.6C383.0 236.5 381.8 235.6 380.8 234.9C379.9 234.1 379.0 233.1 378.6 232.0C378.2 231.0 378.4 229.7 378.5 228.6C378.5 227.5 378.3 226.2 378.7 225.2C379.1 224.2 380.1 223.2 381.0 222.5C381.9 221.8 383.2 221.2 384.3 221.0C385.4 220.9 386.6 221.5 387.7 221.8C388.9 222.1 390.1 222.2 391.0 222.8C391.9 223.4 392.5 224.4 393.1 225.4C393.8 226.4 394.7 228.1 395.0 228.6Z" fill="url(#gPC)" filter="url(#pcf)"/>
<path d="M417.7 233.0C417.7 233.5 417.9 235.2 417.5 236.1C417.1 237.0 416.1 237.6 415.3 238.3C414.4 239.0 413.5 239.7 412.5 240.0C411.5 240.3 410.1 240.4 409.1 240.0C408.1 239.7 407.4 238.6 406.7 237.9C406.0 237.2 405.6 236.5 404.9 235.7C404.3 234.9 402.9 233.9 402.8 233.0C402.7 232.1 403.9 231.0 404.5 230.1C405.1 229.3 405.7 228.7 406.5 227.9C407.2 227.1 408.0 225.6 409.0 225.4C409.9 225.1 411.3 225.9 412.4 226.2C413.6 226.5 415.0 226.5 415.8 227.1C416.6 227.7 417.1 229.0 417.4 230.0C417.8 231.0 417.7 232.5 417.7 233.0Z" fill="url(#gPC)" filter="url(#pcf)"/>
<path d="M437.8 233.2C437.8 233.6 437.8 234.7 437.5 235.4C437.2 236.1 436.6 236.7 436.0 237.2C435.4 237.7 434.7 238.2 433.9 238.4C433.2 238.5 432.3 238.3 431.5 238.1C430.7 238.0 429.7 237.9 429.3 237.3C428.8 236.8 429.0 235.7 428.7 235.0C428.5 234.4 427.9 233.9 427.7 233.2C427.6 232.5 427.4 231.5 427.7 230.9C428.0 230.2 428.8 229.8 429.5 229.3C430.1 228.8 430.8 228.1 431.5 228.1C432.2 228.0 433.0 228.7 433.7 229.0C434.4 229.2 435.3 229.1 435.8 229.5C436.3 229.9 436.6 230.6 436.9 231.2C437.3 231.9 437.7 232.9 437.8 233.2Z" fill="url(#gPC)" filter="url(#pcf)"/>
<path d="M481.5 239.0C481.4 239.5 481.3 241.2 480.8 242.0C480.3 242.8 479.2 243.5 478.3 244.0C477.5 244.5 476.4 244.8 475.5 244.9C474.5 245.0 473.6 244.6 472.6 244.5C471.6 244.4 470.3 244.7 469.5 244.2C468.6 243.7 468.2 242.6 467.7 241.8C467.3 240.9 466.5 239.9 466.6 239.0C466.6 238.1 467.4 237.2 467.9 236.3C468.4 235.4 468.6 234.2 469.4 233.7C470.1 233.1 471.5 233.3 472.5 233.1C473.6 232.9 474.7 232.2 475.7 232.3C476.7 232.4 477.9 233.1 478.6 233.7C479.4 234.4 479.7 235.4 480.2 236.3C480.7 237.2 481.3 238.5 481.5 239.0Z" fill="url(#gPC)" filter="url(#pcf)"/>
<path d="M517.0 239.6C517.1 240.1 517.8 241.9 517.4 242.6C517.0 243.3 515.5 243.5 514.6 244.0C513.8 244.6 513.3 245.8 512.5 245.9C511.7 246.1 510.6 245.3 509.7 245.0C508.8 244.7 508.1 244.6 507.3 244.2C506.4 243.7 504.9 243.4 504.5 242.6C504.2 241.9 505.0 240.6 505.0 239.6C505.1 238.6 504.7 237.6 505.0 236.8C505.4 236.0 506.3 235.3 507.0 234.8C507.8 234.3 508.7 233.8 509.6 233.6C510.5 233.4 511.6 233.3 512.4 233.6C513.3 233.8 513.9 234.6 514.7 235.1C515.5 235.6 516.8 235.9 517.2 236.7C517.6 237.4 517.0 239.1 517.0 239.6Z" fill="url(#gPC)" filter="url(#pcf)"/>
<path d="M366.9 217.5L378.8 207L447.4 206L447.4 230C438 227.6 430 225.4 420.8 223.5C414 222.4 407 221.4 400.7 220.6C394 220.2 387 219.8 380.6 219.3C376 218.8 371 218.2 366.9 217.5Z" fill="url(#gT2)" filter="url(#cntd)"/>
<path d="M366.9 217.5L378.8 207L447.4 206L447.4 230C438 227.6 430 225.4 420.8 223.5C414 222.4 407 221.4 400.7 220.6C394 220.2 387 219.8 380.6 219.3C376 218.8 371 218.2 366.9 217.5Z" fill="url(#gTL)"/>
<path d="M449 207L529.4 217L534.9 235.4C531 233.6 527 232.2 523.9 231.6C517 231.2 510 231 502 231C494 230.6 487 230.2 480 229.9C470 229.6 459 229.2 449 229Z" fill="url(#gT2)" filter="url(#cntd)"/>
<path d="M449 207L529.4 217L534.9 235.4C531 233.6 527 232.2 523.9 231.6C517 231.2 510 231 502 231C494 230.6 487 230.2 480 229.9C470 229.6 459 229.2 449 229Z" fill="url(#gTR)"/>
<path d="M395.8 212.5C395.7 213.0 395.8 214.4 395.4 215.2C395.0 216.0 394.3 216.9 393.5 217.4C392.8 217.8 391.6 217.8 390.7 217.8C389.8 217.9 389.0 217.8 388.1 217.7C387.3 217.5 386.2 217.5 385.5 217.0C384.8 216.6 384.4 215.7 383.9 215.0C383.4 214.2 382.6 213.4 382.5 212.5C382.4 211.6 382.9 210.6 383.4 209.8C383.8 209.0 384.5 208.2 385.3 207.7C386.1 207.2 387.0 206.8 388.0 206.6C388.9 206.4 390.0 206.2 390.9 206.4C391.7 206.7 392.3 207.6 393.1 208.2C393.8 208.8 394.6 209.2 395.1 209.9C395.5 210.6 395.6 212.1 395.8 212.5Z" fill="url(#gPC)" filter="url(#pcf)"/>
<path d="M433.3 213.8C433.3 214.4 433.7 216.3 433.3 217.3C432.9 218.4 431.8 219.4 430.9 220.2C429.9 221.0 428.6 221.9 427.4 222.0C426.2 222.2 424.8 221.3 423.7 220.8C422.5 220.4 421.4 220.2 420.5 219.5C419.6 218.8 419.0 217.8 418.5 216.9C418.0 215.9 417.7 214.9 417.6 213.8C417.4 212.7 416.9 211.2 417.4 210.2C417.9 209.3 419.6 208.9 420.6 208.2C421.6 207.6 422.4 206.4 423.5 206.1C424.6 205.9 426.0 206.4 427.1 206.7C428.3 207.0 429.4 207.4 430.4 208.0C431.3 208.6 432.4 209.5 432.8 210.5C433.3 211.4 433.2 213.2 433.3 213.8Z" fill="url(#gPC)" filter="url(#pcf)"/>
<path d="M469.3 217.0C469.4 217.5 469.9 219.1 469.6 220.0C469.3 220.9 468.3 221.7 467.5 222.3C466.7 223.0 465.7 224.0 464.7 224.1C463.7 224.2 462.5 223.5 461.5 223.1C460.6 222.7 459.8 222.4 458.9 221.9C458.0 221.3 456.9 220.8 456.3 220.0C455.8 219.2 455.6 218.0 455.7 217.0C455.8 216.0 456.5 215.2 457.0 214.3C457.4 213.4 457.7 212.2 458.4 211.6C459.2 211.0 460.4 211.0 461.5 210.7C462.5 210.5 463.7 209.9 464.7 210.1C465.6 210.4 466.3 211.6 467.0 212.3C467.7 213.0 468.5 213.5 468.9 214.3C469.3 215.1 469.3 216.6 469.3 217.0Z" fill="url(#gPC)" filter="url(#pcf)"/>
<path d="M496.1 220.0C495.8 220.4 494.6 221.5 494.1 222.3C493.6 223.1 493.8 224.4 493.2 225.0C492.6 225.5 491.3 225.1 490.3 225.4C489.3 225.6 488.2 226.7 487.4 226.5C486.6 226.3 486.3 224.8 485.5 224.1C484.7 223.5 483.2 223.5 482.7 222.8C482.2 222.1 482.3 220.9 482.3 220.0C482.3 219.1 482.4 218.0 482.7 217.2C483.1 216.3 483.7 215.2 484.5 214.7C485.4 214.3 486.7 214.6 487.7 214.5C488.6 214.5 489.4 214.3 490.4 214.4C491.3 214.5 492.5 214.5 493.2 215.1C493.9 215.6 494.0 216.7 494.5 217.5C495.0 218.4 495.8 219.6 496.1 220.0Z" fill="url(#gPC)" filter="url(#pcf)"/>
<path d="M520.8 222.0C520.8 222.3 520.8 223.4 520.5 224.0C520.2 224.6 519.6 225.1 519.1 225.5C518.5 225.9 517.8 226.3 517.1 226.4C516.4 226.6 515.6 226.5 514.9 226.4C514.2 226.3 513.3 226.2 512.8 225.7C512.2 225.3 512.1 224.5 511.8 223.9C511.4 223.3 510.8 222.6 510.8 222.0C510.9 221.4 511.7 220.8 512.0 220.2C512.4 219.7 512.5 219.0 513.0 218.6C513.5 218.2 514.3 217.8 514.9 217.7C515.6 217.6 516.3 217.8 517.0 217.9C517.7 218.0 518.8 217.8 519.3 218.2C519.8 218.6 520.0 219.5 520.3 220.1C520.6 220.7 520.7 221.7 520.8 222.0Z" fill="url(#gPC)" filter="url(#pcf)"/>
<path d="M361.4 200.1C362.6 197.8 364.4 195.4 366 193.7C380 192 395 190.4 409.8 189.1C423 188 436 187 447.4 186.4L447.4 209.2C442 208.4 437 207.8 431.8 207.4C424 207.2 417 207.3 409.8 207.4C400 206.6 391 205.6 382.4 204.7C375 203.4 368 201.8 361.4 200.1Z" fill="url(#gT1)" filter="url(#cntf)"/>
<path d="M361.4 200.1C362.6 197.8 364.4 195.4 366 193.7C380 192 395 190.4 409.8 189.1C423 188 436 187 447.4 186.4L447.4 209.2C442 208.4 437 207.8 431.8 207.4C424 207.2 417 207.3 409.8 207.4C400 206.6 391 205.6 382.4 204.7C375 203.4 368 201.8 361.4 200.1Z" fill="url(#xh)" opacity="0.75"/>
<path d="M449 187C459 188.2 470 189.6 480 190.6C488 190.8 495 190 502 188.6C507 187.2 511 185.4 514.7 183.3C519 194 524 206 529.4 217.8C524 217.6 518 217.2 512.9 216.7C508 216 503 215.2 497.6 214.5C491 213.8 485 213.2 480 212.8C470 211.6 459 209.8 449 208Z" fill="url(#gT1)" filter="url(#cntf)"/>
<path d="M449 187C459 188.2 470 189.6 480 190.6C488 190.8 495 190 502 188.6C507 187.2 511 185.4 514.7 183.3C519 194 524 206 529.4 217.8C524 217.6 518 217.2 512.9 216.7C508 216 503 215.2 497.6 214.5C491 213.8 485 213.2 480 212.8C470 211.6 459 209.8 449 208Z" fill="url(#xh)" opacity="0.75"/>
<path d="M361.4 200.1C362.6 197.8 364.4 195.4 366 193.7C380 192 395 190.4 409.8 189.1C423 188 436 187 447.4 186.4M449 187C459 188.2 470 189.6 480 190.6C488 190.8 495 190 502 188.6C507 187.2 511 185.4 514.7 183.3" fill="none" stroke="#a68bd2" stroke-width="1.3" opacity="0.85"/>
<path d="M361.4 200.1C368 201.8 375 203.4 382.4 204.7C391 205.6 400 206.6 409.8 207.4C417 207.3 424 207.2 431.8 207.4C437 207.8 442 208.4 447.4 209.2M449 208C459 209.8 470 211.6 480 212.8C485 213.2 491 213.8 497.6 214.5C503 215.2 508 216 512.9 216.7C518 217.2 524 217.6 529.4 217.8" fill="none" stroke="#ece8f6" stroke-width="0.9" opacity="0.9"/>
<path d="M534.1 232.9Q532.4 235.9 529.9 237.7M503.1 188.1Q501.0 189.8 500.9 193.1M408.9 189.2Q409.4 190.1 407.7 191.9M524.0 205.2Q527.4 204.3 529.9 201.8M514.8 183.5Q513.1 187.2 511.7 188.6M477.1 190.2Q476.6 192.4 476.4 195.6M464.8 188.6Q467.7 191.6 468.7 192.4M403.4 189.8Q401.0 188.3 398.6 184.9M529.8 250.3Q531.6 251.0 533.3 253.7M511.6 184.6Q513.7 186.6 513.9 187.7M534.8 235.0Q537.3 231.9 538.4 230.1M402.7 189.8Q402.2 193.2 402.5 195.9M365.8 193.9Q368.3 194.7 368.6 195.4M532.6 228.0Q531.8 225.1 533.0 224.0M365.0 195.1Q367.4 194.2 369.2 195.6M512.9 184.1Q511.2 182.4 507.6 182.7M426.0 187.9Q426.1 186.6 428.3 186.8M365.9 193.8Q369.4 194.0 371.3 194.8M428.6 187.7Q430.0 191.5 429.0 194.2M362.1 199.1Q359.7 201.1 359.0 201.3M531.1 246.4Q531.7 243.7 532.8 243.2M529.7 250.6Q532.2 249.8 533.1 250.0M525.2 207.8Q524.2 210.3 525.0 212.4M361.9 199.4Q359.1 197.8 357.5 194.9M479.6 190.5Q479.8 191.4 479.3 193.7M501.5 188.6Q503.0 188.5 506.1 190.1M495.9 189.2Q496.3 185.4 496.5 183.5M434.9 187.3Q437.6 187.7 439.2 186.3M533.0 241.0Q534.7 241.9 535.1 242.9M362.5 198.6Q363.2 197.3 363.2 195.3M529.8 250.2Q530.2 248.6 532.8 249.3M475.7 190.0Q476.7 190.4 476.1 192.5M534.7 234.7Q536.4 236.5 537.6 240.2M405.1 189.6Q402.3 191.3 401.8 193.5M507.4 186.4Q508.4 188.1 510.6 189.3M531.6 245.0Q534.8 246.4 535.8 249.0M429.9 187.7Q426.4 188.6 423.9 188.7M525.4 208.5Q526.5 207.1 529.2 207.5M533.6 239.4Q531.9 240.1 530.8 241.8M500.4 188.7Q500.8 186.5 503.2 183.1M529.9 250.0Q528.1 252.8 526.6 255.6M363.4 197.4Q365.6 200.1 366.4 201.2M533.0 229.3Q535.8 229.7 536.2 230.0M365.0 195.1Q366.7 193.7 366.5 192.2M519.6 194.9Q521.2 192.8 523.6 191.8M479.2 190.5Q480.6 193.5 481.0 194.2M534.5 234.0Q536.4 233.8 539.4 231.7M524.3 205.7Q521.0 207.3 519.7 208.6M529.7 218.8Q527.8 217.1 527.0 215.4M501.5 188.6Q503.6 189.4 505.0 189.3M397.8 190.4Q397.8 186.1 398.6 184.1M409.1 189.2Q407.3 193.1 407.4 195.5M428.5 187.8Q426.5 188.0 424.4 190.1M501.8 188.6Q502.3 187.4 501.1 186.5M522.4 201.3Q520.6 202.0 520.3 200.8M474.1 189.8Q474.5 192.3 473.7 195.4M466.6 188.9Q468.0 187.6 469.9 185.8M488.6 189.8Q486.1 188.7 482.8 186.5M429.1 187.7Q431.3 185.9 433.0 185.3M430.6 187.6Q430.7 184.6 432.8 183.5" fill="none" stroke="#b7afcf" stroke-width="0.42" opacity="0.85"/>
<path d="M483.6 248.9Q483.2 249.1 480.5 247.8M451.3 246.2Q449.1 248.4 445.8 250.3M391.3 244.0Q389.7 242.8 389.2 240.6M505.9 251.1Q507.5 252.2 509.2 251.7M494.4 249.9Q494.4 252.8 493.1 254.0M395.4 244.4Q396.3 242.2 395.7 240.2M502.4 250.7Q504.5 248.2 505.1 245.3M489.9 249.5Q493.5 249.4 496.2 247.3M480.5 248.5Q480.1 250.8 477.5 251.8M418.2 245.7Q417.6 246.5 415.8 246.5M431.6 246.2Q433.4 243.1 433.1 239.4M425.3 246.1Q426.0 244.3 426.6 242.8M399.9 244.8Q399.1 245.6 397.8 246.0M403.6 245.0Q402.9 248.2 402.4 251.5M360.8 238.6Q362.9 239.5 364.9 240.0M489.9 249.5Q491.1 247.5 492.5 247.2M376.5 242.5Q377.1 242.5 378.6 240.6M400.4 244.9Q399.5 242.7 397.5 240.3M407.4 245.2Q410.0 244.3 412.1 243.6M439.0 246.1Q441.4 247.1 444.8 246.7M368.2 240.7Q369.9 239.0 372.5 237.8M374.0 242.3Q373.0 244.4 371.9 246.0M436.3 246.1Q438.5 245.5 438.9 246.2M443.5 246.1Q442.4 247.6 439.8 249.1M503.9 250.9Q505.0 248.9 503.9 248.9M433.7 246.1Q435.1 245.5 437.2 242.9M509.0 251.5Q510.0 250.8 513.4 249.3M445.1 246.0Q447.1 244.0 447.3 239.9M375.3 242.4Q374.0 239.9 371.5 239.1M363.4 239.4Q362.9 239.6 360.8 239.7M444.7 246.0Q447.5 243.9 450.5 243.8M525.6 253.3Q524.0 253.5 520.7 253.0M404.9 245.1Q405.7 247.2 406.7 250.6M361.2 238.7Q358.9 239.9 358.8 238.9M498.3 250.3Q495.6 252.9 494.8 253.5M425.5 246.1Q422.6 245.4 419.5 247.2M519.9 252.6Q520.6 252.8 523.0 251.2M392.4 244.1Q393.3 245.8 394.3 246.3M526.2 253.3Q528.6 250.5 529.9 248.6M386.9 243.5Q383.5 244.2 382.3 246.4M520.6 252.7Q518.2 255.5 518.0 257.6M487.9 249.3Q487.8 252.9 485.4 254.5M438.7 246.1Q441.6 243.0 443.6 242.2M435.6 246.1Q436.9 246.4 438.3 245.1M508.4 251.4Q508.7 249.6 508.4 247.9" fill="none" stroke="#b7afcf" stroke-width="0.42" opacity="0.85"/>
<path d="M367.5 216.9Q368.3 214.5 366.9 212.6M367.7 226.7Q368.9 226.2 371.7 226.5M360.7 238.2Q358.9 238.0 359.2 239.5M367.2 221.6Q364.1 220.6 362.8 221.9M362.3 200.5Q360.8 199.3 357.6 198.0M367.4 224.1Q365.6 221.2 364.8 219.2M364.7 201.4Q362.4 198.5 362.4 198.0M370.9 203.8Q370.7 204.1 372.1 206.2M367.5 225.1Q365.7 224.9 363.6 223.7M367.7 226.8Q371.5 225.9 373.7 225.2M367.1 219.5Q368.1 222.9 367.4 225.0M369.6 203.3Q369.4 201.5 368.5 201.3M363.2 234.7Q364.3 234.4 365.2 235.7M370.1 203.5Q369.3 201.2 368.8 201.1M367.1 219.8Q369.8 221.6 370.2 224.2M367.5 224.4Q368.5 226.7 368.4 226.9" fill="none" stroke="#b7afcf" stroke-width="0.42" opacity="0.85"/>
<path d="M382.3 218.9Q381.6 216.2 380.7 212.4M395.9 220.2Q398.5 221.1 398.7 220.8M441.8 228.9Q442.2 228.5 443.9 229.7M371.6 217.9Q368.5 218.2 366.3 217.7M378.1 218.5Q380.0 220.7 381.5 223.4M389.1 219.5Q390.1 220.4 390.4 221.4M428.4 226.2Q429.1 224.0 431.8 220.7M394.6 220.0Q396.5 220.3 398.8 221.4M368.8 217.7Q365.4 220.3 363.5 220.7M430.6 226.6Q429.5 225.8 428.2 223.0M383.3 219.0Q382.7 217.2 381.3 217.5M404.3 221.3Q405.5 223.1 408.0 225.1M398.2 220.4Q399.4 223.2 398.8 226.2M411.4 222.8Q411.8 219.9 413.9 218.6M415.7 223.6Q415.6 223.7 413.6 224.9M391.3 219.7Q388.9 219.7 387.6 218.8" fill="none" stroke="#b7afcf" stroke-width="0.42" opacity="0.85"/>
<path d="M472.3 229.9Q471.3 232.3 470.4 236.0M521.0 233.5Q519.5 236.3 516.2 238.0M475.3 230.0Q474.9 227.6 476.6 225.9M532.6 235.1Q533.6 235.9 532.2 237.8M534.4 235.3Q533.9 234.4 532.5 234.2M461.2 229.5Q464.9 229.0 467.6 230.3M499.0 230.9Q500.2 230.4 502.0 231.4M509.9 232.1Q509.1 230.7 508.5 230.5M533.8 235.3Q533.1 236.3 530.4 237.2M532.4 235.1Q533.0 234.2 534.3 232.2M496.2 230.8Q495.0 230.0 493.8 227.3M521.5 233.6Q520.3 234.6 517.9 233.6M498.3 230.9Q496.6 228.8 495.2 228.5M512.4 232.4Q510.5 232.6 507.2 234.6M517.2 233.0Q519.7 231.5 520.2 231.8M511.2 232.2Q512.3 230.5 513.1 226.7" fill="none" stroke="#b7afcf" stroke-width="0.42" opacity="0.85"/>
<path d="M36.6 170.2C42 165.8 52 163.4 65 163.6L65.2 173.6C54 174 42 173.4 36.6 170.2Z" fill="#04fbc6"/>
<text x="77.3" y="172.6" font-weight="bold" font-size="10.4" fill="#111">MXene</text>
<path d="M167.5 167.6C173 165.8 178 166.2 184 168C190 169.8 196 169.6 202.7 167.8" fill="none" stroke="#b18ae0" stroke-width="0.9"/>
<text x="214.4" y="172.4" font-weight="bold" font-size="10.4" fill="#111">CNT</text>
<path d="M300 159.8C304 157.2 311 157 315.6 159.6C319 162 320.4 167 319.4 171.6C318.4 176.4 315 179.6 310.6 180C307 180.2 304.8 178 302.4 177.4C299.4 177 295.6 177.6 294.6 175.6C294 172 295.4 168 296.6 165C297.4 162.6 298.4 161 300 159.8Z" fill="url(#gPC)" filter="url(#pcf)"/>
<text x="328.2" y="172.6" font-weight="bold" font-size="10.4" fill="#111">PC</text>
<circle cx="419.1" cy="168.5" r="4.7" fill="url(#gIonR)"/>
<text x="431.4" y="172.4" font-weight="bold" font-size="10.4" fill="#111">Electrolyte ion</text>
<linearGradient id="gSt" gradientUnits="userSpaceOnUse" x1="10" y1="0" x2="190" y2="0"><stop offset="0" stop-color="#00b686"/><stop offset="0.12" stop-color="#00a076"/><stop offset="0.3" stop-color="#007e5c"/><stop offset="0.48" stop-color="#005a42"/><stop offset="0.56" stop-color="#006e50"/><stop offset="0.75" stop-color="#009870"/><stop offset="1" stop-color="#00b482"/></linearGradient>
<linearGradient id="gL2" gradientUnits="userSpaceOnUse" x1="10" y1="0" x2="80" y2="0"><stop offset="0" stop-color="#00d8a4"/><stop offset="0.55" stop-color="#00bc8c"/><stop offset="1" stop-color="#007a5a"/></linearGradient>
<linearGradient id="gShd" x1="0" y1="0" x2="0" y2="1"><stop offset="0" stop-color="#04261c" stop-opacity="0.75"/><stop offset="0.45" stop-color="#04261c" stop-opacity="0.25"/><stop offset="1" stop-color="#04261c" stop-opacity="0"/></linearGradient>
<path d="M12.0 226.8C13.4 227.1 14.8 228.1 20.3 228.3C25.8 228.5 35.9 227.9 45.0 228.0C54.1 228.1 65.7 228.4 75.0 229.0C84.3 229.6 96.3 231.1 100.6 231.5L98.6 237.6C97.5 237.1 94.7 235.2 92.0 234.4C89.3 233.6 90.8 232.9 82.7 232.5C74.6 232.1 54.4 232.3 43.2 232.2C32.1 232.1 20.4 231.9 15.8 231.9L20.3 228.7Z" fill="url(#gSt)"/><path d="M12.0 226.8C13.4 227.1 14.8 228.1 20.3 228.3C25.8 228.5 35.9 227.9 45.0 228.0C54.1 228.1 65.7 228.4 75.0 229.0C84.3 229.6 96.3 231.1 100.6 231.5L98.6 237.6C97.5 237.1 94.7 235.2 92.0 234.4C89.3 233.6 90.8 232.9 82.7 232.5C74.6 232.1 54.4 232.3 43.2 232.2C32.1 232.1 20.4 231.9 15.8 231.9L20.3 228.7Z" fill="url(#gShd)"/>
<path d="M12.0 222.4C15.1 222.3 23.2 221.9 30.5 221.7C37.8 221.5 47.6 221.0 55.9 221.1C64.2 221.2 72.5 221.8 80.0 222.5C87.5 223.2 97.2 225.0 100.6 225.5L100.6 231.5C96.3 231.1 84.3 229.6 75.0 229.0C65.7 228.4 54.1 228.1 45.0 228.0C35.9 227.9 25.8 228.5 20.3 228.3C14.8 228.1 13.4 227.1 12.0 226.8L20.3 223.3Z" fill="url(#gSt)"/><path d="M12.0 222.4C15.1 222.3 23.2 221.9 30.5 221.7C37.8 221.5 47.6 221.0 55.9 221.1C64.2 221.2 72.5 221.8 80.0 222.5C87.5 223.2 97.2 225.0 100.6 225.5L100.6 231.5C96.3 231.1 84.3 229.6 75.0 229.0C65.7 228.4 54.1 228.1 45.0 228.0C35.9 227.9 25.8 228.5 20.3 228.3C14.8 228.1 13.4 227.1 12.0 226.8L20.3 223.3Z" fill="url(#gShd)"/>
<path d="M9.5 210.0C11.9 210.2 18.5 210.8 24.1 211.5C29.7 212.2 37.5 213.3 43.2 214.1C48.9 214.8 52.4 215.3 58.5 216.0C64.6 216.7 73.0 217.3 80.0 218.0C87.0 218.7 97.2 219.7 100.6 220.0L100.6 225.5C97.2 225.0 87.5 223.2 80.0 222.5C72.5 221.8 64.2 221.2 55.9 221.1C47.6 221.0 37.8 221.5 30.5 221.7C23.2 221.9 15.1 222.3 12.0 222.4L18.4 212.8Z" fill="url(#gSt)"/><path d="M9.5 210.0C11.9 210.2 18.5 210.8 24.1 211.5C29.7 212.2 37.5 213.3 43.2 214.1C48.9 214.8 52.4 215.3 58.5 216.0C64.6 216.7 73.0 217.3 80.0 218.0C87.0 218.7 97.2 219.7 100.6 220.0L100.6 225.5C97.2 225.0 87.5 223.2 80.0 222.5C72.5 221.8 64.2 221.2 55.9 221.1C47.6 221.0 37.8 221.5 30.5 221.7C23.2 221.9 15.1 222.3 12.0 222.4L18.4 212.8Z" fill="url(#gShd)"/>
<path d="M12.0 205.2C15.1 205.6 24.2 206.6 30.5 207.7C36.8 208.8 42.1 210.4 49.5 211.5C56.9 212.6 66.7 213.4 75.0 214.1C83.3 214.8 95.3 215.2 99.4 215.4L100.6 220.0C97.2 219.7 87.0 218.7 80.0 218.0C73.0 217.3 64.6 216.7 58.5 216.0C52.4 215.3 48.9 214.8 43.2 214.1C37.5 213.3 29.7 212.2 24.1 211.5C18.5 210.8 11.9 210.2 9.5 210.0Z" fill="url(#gL2)"/>
<path d="M99.4 232.0C106.2 232.1 129.1 232.2 140.0 232.5C150.9 232.8 157.5 233.2 165.0 234.0C172.5 234.8 181.7 237.0 185.0 237.6L183.6 239.6L182.4 241.8C180.0 241.2 173.8 239.3 168.2 238.3C162.6 237.3 157.0 236.3 149.1 235.7C141.2 235.1 129.2 235.1 120.9 234.7C112.6 234.3 103.0 233.4 99.4 233.2Z" fill="url(#gSt)"/><path d="M99.4 232.0C106.2 232.1 129.1 232.2 140.0 232.5C150.9 232.8 157.5 233.2 165.0 234.0C172.5 234.8 181.7 237.0 185.0 237.6L183.6 239.6L182.4 241.8C180.0 241.2 173.8 239.3 168.2 238.3C162.6 237.3 157.0 236.3 149.1 235.7C141.2 235.1 129.2 235.1 120.9 234.7C112.6 234.3 103.0 233.4 99.4 233.2Z" fill="url(#gShd)"/>
<path d="M99.4 226.0C106.2 226.1 129.1 226.2 140.0 226.5C150.9 226.8 157.2 226.6 165.0 227.5C172.8 228.4 183.0 231.2 186.6 231.9L184.4 234.6L185.0 237.6C181.7 237.0 172.5 234.8 165.0 234.0C157.5 233.2 150.9 232.8 140.0 232.5C129.1 232.2 106.2 232.1 99.4 232.0Z" fill="url(#gSt)"/><path d="M99.4 226.0C106.2 226.1 129.1 226.2 140.0 226.5C150.9 226.8 157.2 226.6 165.0 227.5C172.8 228.4 183.0 231.2 186.6 231.9L184.4 234.6L185.0 237.6C181.7 237.0 172.5 234.8 165.0 234.0C157.5 233.2 150.9 232.8 140.0 232.5C129.1 232.2 106.2 232.1 99.4 232.0Z" fill="url(#gShd)"/>
<path d="M99.4 219.5C102.8 219.4 113.2 218.8 120.0 219.0C126.8 219.2 132.5 220.2 140.0 220.6C147.5 221.0 157.2 220.8 165.0 221.5C172.8 222.2 183.3 224.0 187.0 224.5L185.0 228.0L186.6 231.9C183.0 231.2 172.8 228.4 165.0 227.5C157.2 226.6 150.9 226.8 140.0 226.5C129.1 226.2 106.2 226.1 99.4 226.0Z" fill="url(#gSt)"/><path d="M99.4 219.5C102.8 219.4 113.2 218.8 120.0 219.0C126.8 219.2 132.5 220.2 140.0 220.6C147.5 221.0 157.2 220.8 165.0 221.5C172.8 222.2 183.3 224.0 187.0 224.5L185.0 228.0L186.6 231.9C183.0 231.2 172.8 228.4 165.0 227.5C157.2 226.6 150.9 226.8 140.0 226.5C129.1 226.2 106.2 226.1 99.4 226.0Z" fill="url(#gShd)"/>
<path d="M99.4 207.7C103.0 208.4 113.7 210.8 120.9 212.2C128.1 213.6 134.8 215.1 142.7 216.0C150.6 216.9 160.0 217.3 168.2 217.7C176.4 218.1 188.1 218.4 192.1 218.5L186.0 221.4L187.0 224.5C183.3 224.0 172.8 222.2 165.0 221.5C157.2 220.8 147.5 221.0 140.0 220.6C132.5 220.2 126.8 219.2 120.0 219.0C113.2 218.8 102.8 219.4 99.4 219.5Z" fill="url(#gSt)"/><path d="M99.4 207.7C103.0 208.4 113.7 210.8 120.9 212.2C128.1 213.6 134.8 215.1 142.7 216.0C150.6 216.9 160.0 217.3 168.2 217.7C176.4 218.1 188.1 218.4 192.1 218.5L186.0 221.4L187.0 224.5C183.3 224.0 172.8 222.2 165.0 221.5C157.2 220.8 147.5 221.0 140.0 220.6C132.5 220.2 126.8 219.2 120.0 219.0C113.2 218.8 102.8 219.4 99.4 219.5Z" fill="url(#gShd)"/>
<path d="M84 215L99.4 215.4L99.4 207.7L118 211.6C112 214 106 219 102 226L99.3 233.2L98.6 237.6L88 233C92 228 92 221 84 215Z" fill="#06382b" opacity="0.45"/>
<path d="M12 205.2C16 200 22 193.6 26.9 189.6C38 187.8 48 185 59.8 184.1C68 184 75 184.4 81.8 185C90 186 98 187.6 103.8 188.7C101.6 193 100.2 198 99.8 202.4C99.4 207 99.3 212 99.3 215.4C91 215 83 214.6 75 214.1C66 213.4 57 212.6 49.5 211.5C42 210.2 36 208.8 30.5 207.7C24 206.4 18 205.6 12 205.2Z" fill="url(#gMX)"/>
<path d="M104.1 190.5C112 188.4 122 186.6 131.6 186C140 185.6 148 185.8 155.3 186.3C163 186.8 171 188.4 178.2 190.5C181.6 194 184.8 199 187.3 205.2C189.4 210 191 214 192.1 218.5C184 218.2 176 218 168.2 217.7C159 217.4 150 216.8 142.7 216C135 215 127 213.6 120.9 212.2C113 210.4 106 208.8 99.9 207.7C99.7 206 99.7 204 99.8 202.4C100.4 198 102 194 104.1 190.5Z" fill="url(#gMX2)"/>
<path d="M99.3 215.4C99.4 210 99.5 206 99.8 202.4C100.4 198 102 194 104.1 190.5" fill="none" stroke="#0c8e6c" stroke-width="0.6" opacity="0.5"/>
<g fill="none" stroke="#f2b21a" stroke-width="1.8" stroke-dasharray="6.4 3.8">
<ellipse cx="64.3" cy="222.8" rx="7.4" ry="7" stroke-dasharray="4.6 2.8"/>
<path d="M57.4 225.4L23.6 260.4" stroke-dasharray="4.4 3" stroke-width="1.6"/><path d="M71.6 219.6L176 281" stroke-dasharray="4.4 3" stroke-width="1.6"/>
<path d="M379 221.6L206 296"/><path d="M418.6 243.6L394 310"/>
<rect x="379" y="221.2" width="40" height="22.2" stroke-dasharray="3.4 2" stroke-width="1.8"/>
<circle cx="510.7" cy="239.8" r="7" stroke-dasharray="4.4 2.4" stroke-width="1.9"/>
<path d="M510.2 248.4L507.6 271" stroke-dasharray="3.6 2.4" stroke-width="1.3"/>
<path d="M504.6 271.4L507 278.4L510.2 271.8Z" fill="#f2b21a" stroke="none"/>
</g>
<path d="M190 199.4H317.8V190.8L352.2 208L317.8 224.8V216.6H190Z" fill="url(#gArrow)"/>
<text x="197.4" y="211.4" font-weight="bold" font-size="10.4" fill="#111">Introducing</text>
<path d="M259.6 211.2C264 209.6 266 207 270 206C274 205 275.6 203.4 278.3 202" fill="none" stroke="#6f7fe0" stroke-width="0.8"/>
<text x="279.6" y="211.4" font-weight="bold" font-size="10.4" fill="#111">&amp;</text>
<path d="M308.9 207.9C308.7 208.4 308.3 209.9 307.9 210.9C307.4 211.8 307.0 213.1 306.2 213.7C305.3 214.3 304.0 214.6 302.9 214.7C301.8 214.8 300.7 214.7 299.6 214.5C298.5 214.4 297.3 214.2 296.2 213.7C295.1 213.2 293.7 212.5 293.1 211.5C292.4 210.6 292.4 209.1 292.4 207.9C292.5 206.7 292.7 205.3 293.3 204.4C294.0 203.5 295.4 203.0 296.4 202.4C297.4 201.7 298.3 200.7 299.4 200.4C300.4 200.2 301.8 200.6 302.9 200.9C304.0 201.2 305.1 201.8 305.9 202.4C306.7 203.1 307.4 204.0 307.9 204.9C308.4 205.8 308.7 207.4 308.9 207.9Z" fill="url(#gPC)" filter="url(#pcf)"/>
<linearGradient id="gS0" gradientUnits="userSpaceOnUse" x1="23" y1="260" x2="176" y2="296"><stop offset="0" stop-color="#00fccc"/><stop offset="0.55" stop-color="#06fed0"/><stop offset="1" stop-color="#2cffd8"/></linearGradient>
<linearGradient id="gSh" gradientUnits="userSpaceOnUse" x1="110" y1="256" x2="150" y2="292"><stop offset="0" stop-color="#66ffe4"/><stop offset="1" stop-color="#40ffdc" stop-opacity="0"/></linearGradient>
<linearGradient id="gB1" gradientUnits="userSpaceOnUse" x1="60" y1="296" x2="66" y2="322"><stop offset="0" stop-color="#00240e"/><stop offset="0.38" stop-color="#004e20"/><stop offset="0.75" stop-color="#007c38"/><stop offset="1" stop-color="#00a850"/></linearGradient>
<linearGradient id="gB2" gradientUnits="userSpaceOnUse" x1="60" y1="318" x2="70" y2="345"><stop offset="0" stop-color="#002a10"/><stop offset="0.38" stop-color="#005423"/><stop offset="0.75" stop-color="#00823a"/><stop offset="1" stop-color="#00ac52"/></linearGradient>
<linearGradient id="gB3" gradientUnits="userSpaceOnUse" x1="60" y1="340" x2="74" y2="372"><stop offset="0" stop-color="#002a10"/><stop offset="0.38" stop-color="#005423"/><stop offset="0.75" stop-color="#00823a"/><stop offset="1" stop-color="#00ac52"/></linearGradient>
<linearGradient id="gB4" gradientUnits="userSpaceOnUse" x1="110" y1="345" x2="124" y2="372"><stop offset="0" stop-color="#003414"/><stop offset="1" stop-color="#009a44"/></linearGradient>
<linearGradient id="gBr" gradientUnits="userSpaceOnUse" x1="95" y1="0" x2="178" y2="0"><stop offset="0" stop-color="#08c848" stop-opacity="0"/><stop offset="0.55" stop-color="#08d04c" stop-opacity="0.5"/><stop offset="1" stop-color="#18e45c" stop-opacity="0.85"/></linearGradient>
<clipPath id="slowc"><path d="M23.5 297L176.4 292.5L176.4 320.6L123.5 368.2L23.5 368.4Z"/></clipPath>
<g clip-path="url(#slowc)">
<rect x="20" y="290" width="160" height="80" fill="#003414"/>
<path d="M23.5 297.6L176.4 292.5L176.4 299C150 303.6 120 310.6 92.3 314.4C70 318 45 322 23.5 325.2Z" fill="url(#gB1)"/>
<path d="M23.5 325.2C45 322 70 318 92.3 314.4C120 310.6 150 303.6 176.4 299L176.4 306.6C150 315 130 322 107.7 328.3C80 336 50 343 23.5 348.4Z" fill="url(#gB2)"/>
<path d="M23.5 348.4C50 343 80 336 107.7 328.3C130 322 150 315 176.4 306.6L176.4 315.9C150 328 110 350 76.8 369L23.5 369Z" fill="url(#gB3)"/>
<path d="M76.8 369C110 350 150 328 176.4 315.9L176.4 322L123 369Z" fill="url(#gB4)"/>
<rect x="90" y="290" width="90" height="80" fill="url(#gBr)"/>
</g>
<path d="M23.5 260.5C36 261.6 49 262 61.4 262C72 261.8 83 261.4 92.3 260.5C98 259.4 103 257.8 107.7 255.8C109.6 255 111 254.5 112.4 254.3C115 258 118 262.6 121.6 266.6C127 269 133 270.8 138.6 272.2C145 273.6 151 274.8 157.2 275.9C164 278 170 280.6 176.4 283.6L176.4 293.4L23.5 297.8Z" fill="url(#gS0)"/>
<path d="M92.3 260.6C98 259.4 103 257.8 107.7 255.8C109.6 255 111 254.5 112.4 254.3C115 258 118 262.6 121.6 266.6C127 269 133 270.8 138.6 272.2C145 273.6 151 274.8 157.2 275.9C164 278 170 280.6 176.4 283.6L176.4 291C150 284 120 272 92.3 260.6Z" fill="url(#gSh)"/>
<g transform="translate(40.3 305.1) rotate(-12)"><rect x="-8.0" y="-5.1" width="16.0" height="10.2" rx="5.1" fill="url(#gIon)"/><ellipse cx="0.8" cy="-2.0" rx="4.8" ry="1.6" fill="#ffd0e8" opacity="0.4"/></g>
<g transform="translate(85.5 304.2) rotate(-12)"><rect x="-6.2" y="-4.1" width="12.4" height="8.2" rx="4.1" fill="url(#gIon)"/><ellipse cx="0.6" cy="-1.6" rx="3.7" ry="1.3" fill="#ffd0e8" opacity="0.4"/></g>
<g transform="translate(121.0 299.8) rotate(-12)"><rect x="-5.8" y="-3.8" width="11.6" height="7.6" rx="3.8" fill="url(#gIon)"/><ellipse cx="0.6" cy="-1.5" rx="3.5" ry="1.2" fill="#ffd0e8" opacity="0.4"/></g>
<g transform="translate(158.7 296.7) rotate(-12)"><rect x="-4.5" y="-3.0" width="9.0" height="6.0" rx="3.0" fill="url(#gIon)"/><ellipse cx="0.5" cy="-1.2" rx="2.7" ry="1.0" fill="#ffd0e8" opacity="0.4"/></g>
<g transform="translate(151.0 307.3) rotate(-12)"><rect x="-4.8" y="-3.3" width="9.6" height="6.6" rx="3.3" fill="url(#gIon)"/><ellipse cx="0.5" cy="-1.3" rx="2.9" ry="1.1" fill="#ffd0e8" opacity="0.4"/></g>
<g transform="translate(111.4 315.3) rotate(-12)"><rect x="-5.8" y="-4.0" width="11.6" height="8.0" rx="4.0" fill="url(#gIon)"/><ellipse cx="0.6" cy="-1.6" rx="3.5" ry="1.3" fill="#ffd0e8" opacity="0.4"/></g>
<g transform="translate(74.4 323.0) rotate(-12)"><rect x="-6.9" y="-4.6" width="13.8" height="9.2" rx="4.6" fill="url(#gIon)"/><ellipse cx="0.7" cy="-1.8" rx="4.1" ry="1.5" fill="#ffd0e8" opacity="0.4"/></g>
<g transform="translate(166.5 312.8) rotate(-12)"><rect x="-4.5" y="-3.3" width="9.0" height="6.6" rx="3.3" fill="url(#gIon)"/><ellipse cx="0.5" cy="-1.3" rx="2.7" ry="1.1" fill="#ffd0e8" opacity="0.4"/></g>
<g transform="translate(164.0 325.8) rotate(-12)"><rect x="-4.8" y="-3.5" width="9.6" height="7.0" rx="3.5" fill="url(#gIon)"/><ellipse cx="0.5" cy="-1.4" rx="2.9" ry="1.1" fill="#ffd0e8" opacity="0.4"/></g>
<g transform="translate(124.7 329.8) rotate(-12)"><rect x="-5.8" y="-4.0" width="11.6" height="8.0" rx="4.0" fill="url(#gIon)"/><ellipse cx="0.6" cy="-1.6" rx="3.5" ry="1.3" fill="#ffd0e8" opacity="0.4"/></g>
<g transform="translate(40.3 340.0) rotate(-12)"><rect x="-8.0" y="-5.5" width="16.0" height="11.0" rx="5.5" fill="url(#gIon)"/><ellipse cx="0.8" cy="-2.2" rx="4.8" ry="1.8" fill="#ffd0e8" opacity="0.4"/></g>
<g transform="translate(96.0 344.7) rotate(-12)"><rect x="-6.5" y="-4.4" width="13.0" height="8.8" rx="4.4" fill="url(#gIon)"/><ellipse cx="0.7" cy="-1.8" rx="3.9" ry="1.4" fill="#ffd0e8" opacity="0.4"/></g>
<g transform="translate(141.7 340.6) rotate(-12)"><rect x="-5.3" y="-3.8" width="10.6" height="7.6" rx="3.8" fill="url(#gIon)"/><ellipse cx="0.5" cy="-1.5" rx="3.2" ry="1.2" fill="#ffd0e8" opacity="0.4"/></g>
<g transform="translate(57.3 357.6) rotate(-12)"><rect x="-7.8" y="-5.2" width="15.6" height="10.4" rx="5.2" fill="url(#gIon)"/><ellipse cx="0.8" cy="-2.1" rx="4.7" ry="1.7" fill="#ffd0e8" opacity="0.4"/></g>
<g transform="translate(117.9 358.3) rotate(-12)"><rect x="-5.7" y="-4.0" width="11.4" height="8.0" rx="4.0" fill="url(#gIon)"/><ellipse cx="0.6" cy="-1.6" rx="3.4" ry="1.3" fill="#ffd0e8" opacity="0.4"/></g>
<radialGradient id="gBall" cx="0.45" cy="0.4" r="0.7"><stop offset="0" stop-color="#55584a"/><stop offset="0.7" stop-color="#3c3f34"/><stop offset="1" stop-color="#24261e"/></radialGradient>
<linearGradient id="gLav" gradientUnits="userSpaceOnUse" x1="206" y1="0" x2="275" y2="0"><stop offset="0" stop-color="#ddd3ea"/><stop offset="0.6" stop-color="#b9a6d6"/><stop offset="1" stop-color="#8f86bc"/></linearGradient>
<filter id="ballf" x="-0.08" y="-0.08" width="1.16" height="1.16" color-interpolation-filters="sRGB">
<feTurbulence type="fractalNoise" baseFrequency="0.09" numOctaves="2" seed="2" result="w"/>
<feDisplacementMap in="SourceGraphic" in2="w" scale="5" xChannelSelector="R" yChannelSelector="G" result="shape"/>
<feTurbulence type="fractalNoise" baseFrequency="0.3" numOctaves="3" seed="4" result="n"/>
<feColorMatrix in="n" type="matrix" values="0 0 0 0 0.08  0 0 0 0 0.085  0 0 0 0 0.07  0 0 -8 0 3.7" result="dark"/>
<feTurbulence type="fractalNoise" baseFrequency="0.4" numOctaves="2" seed="9" result="n2"/>
<feColorMatrix in="n2" type="matrix" values="0 0 0 0 0.42  0 0 0 0 0.32  0 0 0 0 0.52  -9 0 0 0 2.9" result="pur"/>
<feComposite in="dark" in2="shape" operator="atop" result="s1"/>
<feComposite in="pur" in2="s1" operator="atop"/>
</filter>
<filter id="streakU" x="0" y="0" width="1" height="1" color-interpolation-filters="sRGB">
<feTurbulence type="fractalNoise" baseFrequency="0.06 1.0" numOctaves="2" seed="12" result="n"/>
<feColorMatrix in="n" type="matrix" values="0 0 0 0 0.52  0 0 0 0 0.47  0 0 0 0 0.68  0 -10 0 0 5.2" result="pur"/>
<feColorMatrix in="n" type="matrix" values="0 0 0 0 0.0  0 0 0 0 0.55  0 0 0 0 0.40  -9 0 0 0 3.3" result="dk"/>
<feComposite in="dk" in2="SourceGraphic" operator="atop" result="s1"/>
<feComposite in="pur" in2="s1" operator="atop"/>
</filter>
<filter id="streakL" x="0" y="0" width="1" height="1" color-interpolation-filters="sRGB">
<feTurbulence type="fractalNoise" baseFrequency="0.07 1.0" numOctaves="2" seed="23" result="n"/>
<feColorMatrix in="n" type="matrix" values="0 0 0 0 0.34  0 0 0 0 0.36  0 0 0 0 0.46  0 -10 0 0 4.9" result="pur"/>
<feColorMatrix in="n" type="matrix" values="0 0 0 0 0.0  0 0 0 0 0.42  0 0 0 0 0.28  -9 0 0 0 3.5" result="dk"/>
<feComposite in="dk" in2="SourceGraphic" operator="atop" result="s1"/>
<feComposite in="pur" in2="s1" operator="atop"/>
</filter>
<linearGradient id="gUp" gradientUnits="userSpaceOnUse" x1="215" y1="0" x2="300" y2="0"><stop offset="0" stop-color="#c9b8e2" stop-opacity="0.95"/><stop offset="0.55" stop-color="#a88fd0" stop-opacity="0.7"/><stop offset="1" stop-color="#9a86c8" stop-opacity="0"/></linearGradient>
<clipPath id="lowc"><path d="M204.6 349.3L229.3 346.9L252.3 346.1L263.4 341.4L268.1 338.2L290.0 332.0L330.0 328.0L353.5 344.0L374.0 346.9L385.8 352.5L364.6 362.0L335.0 367.4L313.5 374.7L303.2 378.8L298.9 378.4L277.0 373.2L255.0 366.0L229.3 358.6L204.6 349.3Z"/></clipPath>
<g clip-path="url(#lowc)"><g transform="rotate(-14 300 355)"><rect x="190" y="300" width="220" height="110" fill="#00b878" filter="url(#streakL)"/></g></g>
<path d="M216.2 348.2Q215.2 347.8 216.4 345.3M223.6 356.4Q224.2 355.4 223.7 353.6M273.2 336.8Q272.2 334.4 272.6 331.6M263.5 341.3Q264.8 340.1 267.6 339.7M322.2 371.8Q322.0 375.3 322.3 378.1M251.2 346.1Q251.6 345.2 253.4 342.6M313.2 374.8Q313.2 370.6 312.5 367.6M300.1 378.5Q300.4 380.1 302.1 384.0M355.9 363.6Q354.1 362.1 351.5 361.4M352.9 343.6Q355.8 342.7 359.7 343.3M208.6 350.8Q207.0 353.0 207.7 353.7M320.0 372.5Q322.8 374.1 323.7 375.0M332.7 329.8Q333.0 330.7 333.9 333.7M264.7 340.5Q267.8 337.7 268.7 336.4M318.5 329.1Q320.0 327.9 321.5 325.3M384.2 351.7Q386.8 352.3 389.1 351.1M274.0 372.2Q274.6 369.8 273.0 366.1M379.8 349.6Q379.6 346.3 380.7 344.9M376.3 356.7Q377.9 356.9 379.1 356.6M348.5 340.6Q352.4 339.6 355.3 338.3M212.1 352.1Q208.4 351.6 205.1 351.0M292.1 376.8Q292.7 375.1 293.8 373.2M319.0 372.8Q322.1 371.0 324.7 370.7M266.8 339.1Q268.2 340.0 267.8 342.4M374.3 357.6Q375.0 361.8 374.6 364.3M240.2 346.5Q241.1 344.8 241.9 343.3M330.5 368.9Q333.2 368.8 335.0 369.9M354.4 363.9Q354.3 360.8 353.0 359.9M371.6 346.6Q370.3 343.5 369.1 339.7M306.7 330.3Q308.8 331.7 309.4 331.5M211.4 348.6Q212.1 349.9 210.9 352.3M377.2 356.3Q377.8 355.5 377.8 353.0M210.3 351.5Q212.6 347.9 213.9 346.6M217.1 354.0Q217.4 355.7 215.5 358.5M309.4 376.3Q310.9 378.8 311.1 383.5M373.2 346.8Q373.2 351.3 373.6 353.9M385.6 352.4Q385.3 351.3 386.3 350.1M302.6 378.7Q303.4 379.1 306.3 379.9M208.0 350.6Q206.8 350.2 205.7 349.9M379.7 349.6Q377.6 350.8 373.6 350.4M357.6 363.3Q359.7 364.2 362.4 363.1M304.1 378.4Q303.0 381.4 302.2 382.3M298.0 378.2Q297.5 376.6 297.5 373.5M231.6 359.3Q229.9 360.3 226.8 361.6M287.2 332.8Q285.4 336.1 285.0 338.7M293.9 377.2Q291.6 380.0 289.7 383.7M381.1 350.2Q381.0 348.6 383.0 346.2M383.6 351.5Q385.8 351.7 386.2 350.9M380.2 355.0Q379.6 351.8 381.0 350.5M207.8 350.5Q206.2 349.9 205.0 350.9M381.1 350.3Q379.8 354.2 378.3 356.8M266.6 339.2Q269.0 335.7 270.5 333.5M239.8 361.6Q240.1 360.5 240.2 358.1M287.0 375.6Q288.9 371.5 291.9 369.4M295.9 331.4Q298.4 331.7 300.7 330.5M277.4 335.6Q278.9 335.7 280.4 334.9M317.8 373.2Q316.1 372.2 314.6 373.5M320.7 372.2Q322.1 372.7 321.8 374.8M266.9 339.0Q266.0 338.6 263.4 336.8M260.7 342.6Q263.8 340.0 265.3 339.5M224.6 347.4Q225.1 344.7 227.0 344.0M301.4 378.6Q297.3 377.3 293.7 377.9M265.3 340.1Q262.7 339.0 262.3 339.8M276.8 335.7Q276.5 338.0 275.2 342.2M358.6 344.7Q361.6 342.3 362.5 340.6M301.4 378.6Q305.4 379.0 307.2 378.4M223.3 356.4Q224.1 357.6 223.8 358.4M267.6 338.5Q266.7 340.0 267.0 341.6M375.9 356.9Q375.1 358.6 373.6 359.5M385.4 352.3Q382.1 352.8 379.3 353.7M205.1 349.5Q207.0 350.8 209.7 350.7M267.7 370.2Q265.7 370.8 261.5 369.7M288.1 375.8Q284.3 375.4 282.9 375.0M251.8 346.1Q254.6 344.9 255.2 344.8M293.5 377.1Q291.1 377.7 290.3 378.3M356.1 344.4Q354.0 340.9 353.0 339.7M382.2 350.8Q382.2 349.6 380.4 348.9M284.2 374.9Q285.3 376.0 286.4 376.4M305.5 377.9Q306.5 378.3 308.3 376.6M377.9 356.0Q378.3 354.1 379.9 354.2M341.4 335.8Q340.1 338.5 339.9 340.2M308.1 376.8Q308.4 376.6 310.2 377.6M286.7 375.5Q286.8 375.8 288.8 376.8M378.9 355.6Q380.1 354.7 380.7 351.8M325.1 328.5Q328.3 325.4 329.2 322.4M259.7 367.5Q262.1 364.7 263.8 364.1M245.3 346.3Q247.5 342.2 249.1 339.3M356.5 344.4Q355.3 345.7 353.8 345.2M266.6 339.2Q263.5 340.3 262.3 342.6M349.0 364.9Q349.3 367.4 347.6 370.0M265.2 340.2Q268.2 341.6 269.2 341.5M355.9 344.3Q358.5 347.6 360.3 349.3M346.5 339.3Q344.1 341.6 342.8 345.1M310.5 375.9Q312.0 373.1 314.8 371.3M260.0 342.8Q259.8 340.7 257.8 337.8M225.8 357.3Q227.6 353.9 227.9 350.3M261.9 342.0Q263.4 343.1 265.6 343.0M347.0 365.2Q347.0 367.5 346.9 369.3M220.1 347.8Q220.6 345.2 222.5 342.9M362.5 362.4Q364.4 360.4 364.3 359.0M222.4 347.6Q218.8 348.5 217.6 351.4M381.2 354.6Q377.7 355.8 374.5 358.0M294.2 331.6Q295.1 327.7 297.3 325.9M339.0 334.2Q337.2 335.6 334.4 336.2M225.1 357.0Q227.1 357.6 230.3 356.1M300.3 378.5Q302.8 380.1 303.7 379.9M347.5 365.1Q349.3 367.1 350.8 367.4M282.2 334.2Q280.6 334.3 280.1 336.6M300.4 378.5Q301.3 376.4 301.1 374.0M240.9 361.9Q238.8 358.4 238.2 357.0M245.2 346.3Q240.7 346.7 237.8 345.9M244.5 363.0Q247.0 362.6 248.1 361.4M276.9 373.2Q277.1 374.4 275.4 374.7M375.5 357.1Q374.8 357.2 373.3 359.6M258.6 367.2Q258.1 366.0 258.8 363.7M356.6 363.5Q360.1 361.4 363.5 361.0M209.7 351.2Q210.3 349.5 211.7 348.7M369.0 360.0Q368.7 357.0 367.8 355.2M235.6 346.7Q235.3 350.1 236.4 352.2M259.3 367.4Q261.5 368.9 265.5 369.3" fill="none" stroke="#b09cc8" stroke-width="0.42" opacity="0.80"/>
<clipPath id="upc"><path d="M206.4 294.8C210.2 294.3 221.2 292.6 229.3 291.9C237.4 291.2 248.3 291.1 255.0 290.5C261.7 289.9 264.7 289.6 269.6 288.2C274.5 286.8 280.1 283.9 284.2 281.9C288.3 279.9 291.5 277.5 294.5 276.4C297.5 275.3 299.2 275.0 302.0 275.2C304.8 275.4 308.0 276.7 311.0 277.4C314.0 278.1 316.8 278.8 320.0 279.4C323.2 280.0 326.7 280.4 330.0 280.9C333.3 281.3 335.6 281.4 339.6 282.1C343.6 282.8 349.3 283.3 354.2 284.9C359.1 286.4 364.0 288.7 368.9 291.4C373.8 294.1 379.4 298.2 383.5 301.0C387.6 303.8 392.0 307.1 393.7 308.3L393.7 308.3C390.8 307.8 381.5 305.9 376.2 305.3C370.9 304.7 366.5 305.4 361.6 304.6C356.7 303.8 351.1 301.0 347.0 300.6C342.9 300.2 340.4 302.2 336.7 302.4C333.0 302.6 328.4 300.9 325.0 302.0C321.6 303.1 320.0 307.6 316.4 309.0C312.8 310.4 307.4 310.6 303.3 310.5C299.2 310.4 296.0 309.4 291.6 308.3C287.2 307.2 280.6 305.4 276.9 303.9C273.2 302.4 273.2 300.9 269.6 299.5C266.0 298.1 261.7 295.7 255.0 295.2C248.3 294.7 237.4 296.6 229.3 296.5C221.2 296.4 210.2 295.1 206.4 294.8Z"/></clipPath>
<g clip-path="url(#upc)"><g transform="rotate(-17 300 292)"><rect x="190" y="230" width="220" height="120" fill="#00dca4" filter="url(#streakU)"/></g><rect x="200" y="270" width="110" height="50" fill="url(#gUp)"/></g>
<path d="M268.5 288.4Q270.0 289.9 272.8 293.8M231.9 291.8Q228.0 292.6 224.0 291.3M370.8 305.0Q373.5 303.9 378.1 305.1M271.3 300.5Q272.9 302.3 272.4 304.3M341.4 282.4Q341.9 281.1 344.1 282.1M253.0 290.6Q251.2 290.5 249.6 289.4M373.8 305.2Q375.3 302.1 376.6 298.6M269.1 299.4Q267.6 301.7 268.1 303.2M206.7 294.8Q205.5 296.1 204.5 295.9M390.8 307.8Q394.0 307.0 398.9 307.4M343.9 301.1Q341.5 301.1 341.4 303.4M351.5 301.8Q355.2 301.9 356.7 300.2M322.2 304.3Q320.3 303.7 318.9 302.7M357.1 286.2Q359.0 284.7 360.3 281.7M311.5 309.6Q308.4 305.6 305.2 303.5M220.0 293.1Q223.2 293.5 227.3 291.6M315.1 278.3Q316.1 279.0 318.8 280.4M268.4 288.4Q263.8 288.8 260.9 288.3M324.8 280.1Q327.5 277.7 328.7 277.6M301.1 275.3Q303.4 276.3 307.0 277.2M345.1 283.2Q347.8 285.7 348.3 285.9M316.6 278.6Q318.6 279.8 322.9 281.0M320.2 279.4Q322.7 279.4 324.2 281.3M319.7 279.3Q321.1 276.8 324.5 273.9M315.5 278.4Q318.2 280.2 318.5 279.7M319.8 279.4Q317.3 282.1 315.5 284.3M220.6 293.0Q219.9 294.4 219.2 294.6M295.3 276.3Q293.3 273.5 292.6 270.4M245.7 291.0Q243.7 290.1 242.8 290.6M304.7 275.9Q303.6 271.7 300.7 269.8M376.8 305.4Q376.7 303.8 378.3 301.8M371.8 305.1Q372.5 305.4 373.8 304.3M286.8 280.5Q289.8 280.0 290.4 278.6M222.4 292.8Q222.4 293.1 223.7 294.7M316.8 308.7Q317.9 304.7 318.7 302.7M287.3 280.2Q284.6 278.7 281.9 279.4M242.3 295.8Q240.1 298.9 236.1 300.8M359.3 287.2Q361.3 289.2 362.8 289.9M276.2 303.5Q277.0 303.5 278.4 303.2M341.1 301.6Q341.6 303.3 340.4 305.2M390.3 305.9Q388.8 304.0 385.6 301.1M263.1 289.2Q266.7 290.1 271.8 290.1M278.8 284.2Q280.8 284.3 281.1 283.3M380.4 299.0Q382.7 295.9 383.4 292.6M289.1 307.6Q291.0 310.6 292.7 311.3M296.6 276.1Q299.3 277.4 300.2 281.1M233.5 296.3Q232.4 295.0 233.1 292.4M287.8 280.0Q290.1 281.9 291.6 284.5M390.8 306.2Q391.7 308.7 391.7 311.4M345.0 301.0Q342.6 301.9 341.6 301.7M314.7 278.2Q312.7 281.0 311.0 285.7M266.8 298.7Q268.5 298.1 270.7 299.4M393.4 308.1Q395.1 309.5 394.5 313.2M375.5 295.7Q378.7 293.1 379.7 288.2M265.0 298.2Q266.6 301.7 268.3 303.6M381.4 306.2Q380.1 307.3 380.9 310.7M329.2 280.8Q326.7 277.7 326.3 276.1M307.6 276.6Q305.8 278.0 306.0 281.4M234.2 291.6Q234.1 292.0 231.7 291.9M371.7 293.3Q371.8 295.8 372.4 299.7M229.1 291.9Q229.5 288.3 230.8 287.0M333.1 281.3Q333.8 284.7 334.9 286.1M306.9 276.4Q306.9 274.7 306.4 272.3M257.1 290.2Q255.2 290.5 251.0 289.5M307.4 276.5Q307.0 279.6 305.2 282.2M263.7 289.1Q263.5 288.4 265.2 287.0M271.4 300.6Q270.1 302.0 267.0 305.2M311.1 277.4Q308.8 275.7 306.8 273.5M327.6 302.1Q328.9 300.4 331.0 301.0M393.3 308.2Q393.5 305.7 394.1 304.6M336.6 281.7Q337.6 281.5 339.4 282.3M298.8 309.7Q297.7 310.4 296.3 309.2M273.3 301.7Q271.6 298.5 270.1 297.2M389.4 307.6Q388.9 310.4 388.3 314.9M305.9 276.2Q310.3 275.8 312.6 276.7M271.8 300.8Q275.8 297.2 277.8 295.3M317.2 278.8Q318.8 275.2 318.4 269.9M298.5 309.6Q299.0 309.0 297.7 307.5M368.1 291.1Q365.8 290.8 364.1 290.7M322.5 304.0Q319.0 305.5 315.5 305.9M293.5 276.9Q292.0 275.5 290.2 272.5M386.0 302.8Q383.4 304.7 380.5 306.8M238.5 296.0Q235.8 300.1 233.3 302.6M309.7 277.1Q306.2 280.6 304.0 283.2M321.5 279.6Q323.8 276.6 326.4 272.4M303.5 310.5Q301.6 307.6 299.5 303.3M325.4 280.2Q325.5 282.7 326.5 287.1M363.6 289.1Q367.5 290.1 370.3 290.6M293.4 308.6Q294.5 309.0 296.0 310.7M301.4 275.3Q303.4 275.8 304.4 276.4M245.2 291.0Q249.0 288.7 252.9 287.4M318.7 307.1Q319.1 312.0 321.9 315.3M257.8 296.0Q258.8 292.1 258.7 287.1M295.5 309.0Q296.8 309.6 299.4 308.0M364.7 304.7Q362.9 304.9 360.2 304.1M318.7 307.1Q319.3 305.8 320.4 305.0M296.3 309.2Q298.6 310.5 299.5 310.9M311.5 277.5Q313.0 279.1 312.3 282.8M228.0 296.4Q229.1 295.4 231.4 296.7M337.6 281.9Q339.2 284.2 339.3 287.9M293.9 276.7Q295.5 280.6 297.8 282.5M279.8 283.8Q280.7 284.4 283.3 286.3M363.3 288.9Q363.9 285.9 365.8 284.8M262.0 297.2Q265.0 295.3 267.1 293.7M335.2 281.6Q334.0 280.4 334.7 278.6M240.4 295.9Q242.0 294.2 245.2 293.2M350.5 284.2Q351.2 286.3 353.5 286.6M377.7 297.2Q378.2 298.4 380.6 298.6M361.6 288.2Q362.6 287.0 363.4 286.7M302.7 275.4Q299.9 274.5 295.2 275.7M254.7 290.5Q253.0 288.6 252.7 287.6M217.1 295.6Q214.5 295.4 211.0 295.0M249.2 290.8Q251.1 291.9 252.1 293.4M272.2 287.1Q272.6 288.1 274.8 290.1M384.3 306.7Q385.7 307.1 388.1 308.8M272.9 301.5Q274.1 304.4 276.1 305.8M294.0 308.8Q291.7 305.3 290.3 302.7M332.8 281.3Q331.2 279.0 331.5 275.1M207.1 294.7Q206.3 293.7 205.6 291.7M329.1 280.8Q329.3 283.0 330.6 283.1M232.4 291.7Q231.3 295.6 231.4 300.3M334.1 281.4Q337.7 279.1 340.8 276.2M274.9 285.9Q272.8 287.7 272.2 288.2M250.3 290.8Q251.9 286.9 252.0 284.5M363.1 304.7Q364.8 304.5 366.3 302.6M317.2 278.8Q317.4 280.4 318.9 282.8M384.5 306.7Q386.4 305.1 386.0 305.2M378.7 305.7Q377.3 307.0 377.0 308.3M334.8 281.5Q333.4 278.2 331.6 275.6M378.9 298.0Q375.6 300.3 373.7 304.0" fill="none" stroke="#b4a2cc" stroke-width="0.42" opacity="0.80"/>
<linearGradient id="gAr1" gradientUnits="userSpaceOnUse" x1="297" y1="298" x2="365" y2="280"><stop offset="0" stop-color="#e3ad1c" stop-opacity="0.72"/><stop offset="0.7" stop-color="#e9b624" stop-opacity="0.92"/><stop offset="1" stop-color="#f6cf58" stop-opacity="1"/></linearGradient><path d="M297.4 295.1L352.6 281L351.3 276.1L365.2 279.7L355 287.8L354 285.6L299.4 302Z" fill="url(#gAr1)"/>
<path d="M268.0 345.5Q270.3 349.7 272.2 352.8M261.0 321.5Q261.5 318.8 260.3 315.1M304.2 308.6Q306.0 309.2 306.4 311.8M271.1 308.2Q273.3 310.7 278.3 311.0M303.6 309.8Q301.9 306.7 302.5 302.5M311.9 348.8Q308.9 344.2 308.6 340.6M266.1 311.9Q268.9 315.1 269.6 319.5M307.4 350.2Q304.5 351.8 301.6 354.1M315.6 332.6Q311.8 334.3 308.4 334.5M256.9 322.7Q254.4 319.4 254.1 318.6M320.0 336.2Q321.5 334.0 325.3 330.9M311.2 349.2Q309.5 345.9 307.0 343.0M307.7 306.8Q308.6 310.2 308.0 312.4M263.5 342.7Q264.9 342.8 268.0 341.8M283.0 356.6Q280.7 361.5 279.1 364.2M288.7 303.0Q287.8 304.0 289.6 306.9M275.1 310.0Q274.3 312.7 275.6 316.4M292.7 355.4Q296.3 359.1 299.3 361.5M260.2 321.4Q265.3 319.2 268.4 319.8M260.5 314.7Q259.0 311.4 256.6 310.1M284.0 303.0Q287.1 303.9 289.5 305.6M274.8 304.4Q275.8 304.1 278.8 301.7M263.9 312.0Q265.7 309.7 267.1 308.6M297.7 304.4Q298.2 306.6 298.1 310.4M300.7 352.2Q304.7 354.5 306.1 354.8M318.9 338.5Q316.7 335.8 317.4 331.5M299.3 354.8Q297.2 358.3 297.0 359.5M294.2 356.4Q292.8 356.3 290.4 356.1M320.3 334.1Q320.9 336.3 319.8 337.2M267.6 344.8Q265.0 344.2 261.2 343.7M259.8 318.6Q260.5 321.2 261.3 322.4M299.1 303.8Q294.5 304.8 292.3 306.5M318.0 340.5Q322.3 340.2 325.0 340.5M296.0 307.8Q295.3 308.7 292.5 311.5M303.1 348.5Q305.6 345.9 305.8 344.5M302.9 309.6Q307.6 307.6 310.1 304.5M314.6 312.8Q318.0 313.1 319.2 311.7M272.9 348.5Q275.3 348.0 277.6 345.1M260.5 331.9Q258.6 329.6 258.1 326.2M311.6 316.1Q313.2 311.7 314.5 309.2M274.1 309.0Q273.3 311.9 274.0 317.2M307.4 306.3Q306.6 309.7 305.5 311.5M319.4 331.5Q319.6 337.1 320.3 340.0M259.0 337.5Q260.4 337.6 263.1 338.5M302.1 351.3Q306.3 354.1 307.6 354.7M264.5 310.1Q263.9 305.5 263.6 303.4M314.1 312.4Q316.3 310.4 316.6 305.7M319.8 324.8Q324.4 325.1 328.5 325.7M262.8 339.5Q266.5 338.9 269.4 340.9M317.5 316.7Q319.2 314.3 321.6 312.0M265.7 349.7Q269.4 347.7 273.0 345.6M277.6 307.5Q278.7 310.9 281.2 315.7M261.6 330.6Q260.6 329.0 257.6 330.0M297.6 307.0Q299.9 302.3 299.4 299.5M315.8 327.3Q314.9 327.3 314.0 329.7M257.5 320.0Q256.9 318.1 258.9 313.3M266.6 350.4Q269.4 353.0 269.6 354.2M300.0 352.4Q297.0 350.5 295.7 351.2M259.2 328.0Q257.0 330.1 255.8 332.8M290.9 306.6Q292.6 308.1 295.6 309.8M309.6 308.1Q310.5 303.7 313.0 300.3M310.2 344.9Q309.6 348.4 309.9 349.3M255.9 326.9Q252.7 326.5 248.5 325.6M315.7 317.8Q312.3 317.5 311.3 317.7M265.8 342.2Q267.1 341.0 268.8 341.3M261.4 344.3Q264.7 344.8 266.7 343.0M281.2 353.2Q276.9 356.0 273.9 356.5M300.8 353.5Q299.2 353.4 298.6 351.2M266.7 342.5Q263.5 342.8 260.5 343.6M317.3 319.6Q315.5 319.8 312.0 321.6M256.9 332.5Q257.2 334.1 260.2 334.6M298.1 304.7Q296.5 303.5 295.8 302.5M273.9 349.7Q271.1 351.5 270.9 352.8M317.6 333.3Q315.0 335.4 311.2 337.8M319.9 330.5Q320.8 327.1 318.8 323.8M264.6 344.9Q266.1 347.5 269.9 349.0M264.7 312.6Q267.5 317.4 267.6 319.2M291.1 306.6Q292.9 303.2 291.7 302.5M317.6 332.1Q322.7 333.4 325.2 336.2M308.2 311.8Q310.3 310.0 309.8 308.4M291.1 354.2Q292.6 354.5 294.3 354.2M318.6 329.0Q315.9 332.2 316.2 332.9M279.7 307.0Q280.2 303.3 280.0 299.9M311.1 309.4Q311.1 307.8 311.3 305.3M317.1 322.0Q314.1 321.5 313.7 322.4M276.1 308.6Q275.5 305.2 276.3 301.7M301.9 310.3Q300.7 307.1 296.7 304.9M267.6 309.1Q267.1 314.0 265.1 316.3M265.2 341.1Q262.9 341.6 258.2 340.4M257.5 321.6Q258.7 317.4 261.4 316.2M265.8 318.1Q262.5 322.2 260.5 325.3M285.8 305.6Q283.1 302.6 279.1 300.6M319.6 328.6Q320.7 333.7 320.1 336.5M305.1 306.5Q302.9 309.9 299.2 311.3M295.8 356.8Q292.1 355.7 288.2 353.0M265.9 315.0Q261.3 316.5 258.0 315.5M284.8 302.9Q281.7 302.0 277.7 301.6M318.8 329.8Q317.4 327.0 316.5 323.9M313.0 345.4Q313.5 347.5 316.5 346.9M314.4 315.4Q316.8 314.6 318.3 313.8M312.3 345.5Q313.0 346.2 315.9 348.5M312.3 314.4Q309.4 312.6 308.6 313.2M279.3 305.1Q278.4 301.6 279.0 298.6M266.4 350.0Q265.7 347.6 264.1 342.4M290.9 307.5Q293.5 307.4 293.7 309.1M258.8 335.5Q260.3 336.8 259.6 340.1M303.1 307.8Q302.6 305.9 301.1 302.8M263.3 340.6Q258.5 341.4 256.6 343.9M270.0 350.7Q268.9 350.8 265.6 350.4M310.9 313.9Q313.5 311.9 317.0 312.0M297.1 307.5Q297.7 304.7 300.5 300.4M280.3 307.9Q280.1 303.7 280.8 299.2M264.8 342.0Q268.0 343.9 268.5 348.0M318.4 332.9Q317.4 335.6 317.6 341.1M277.7 352.3Q274.5 354.8 272.7 354.6M316.3 331.5Q316.4 329.3 318.1 327.7M266.8 309.5Q268.5 306.6 267.7 305.6M299.9 304.0Q301.0 305.6 303.9 307.5M295.0 303.2Q294.4 302.8 295.1 300.0M286.0 302.9Q286.8 305.0 287.8 306.4M311.6 348.8Q309.0 346.6 303.9 345.0M283.3 356.2Q280.7 357.7 276.7 356.4M259.0 327.2Q259.9 325.0 261.2 324.5M263.8 312.2Q260.8 314.3 260.0 314.1M260.1 315.3Q258.9 318.1 259.6 320.0M258.4 319.3Q255.1 318.8 254.2 316.6M315.7 321.8Q314.1 325.4 313.3 327.5M258.9 332.6Q258.6 335.5 255.7 335.7M295.8 353.1Q295.1 350.8 294.8 348.0M284.8 353.7Q282.6 350.6 283.1 345.3M315.0 343.0Q317.2 345.0 320.9 345.1M318.3 332.7Q321.1 332.4 324.3 331.2M297.0 304.3Q296.1 305.4 293.4 306.4M316.2 323.0Q316.7 326.5 314.2 328.4M279.9 354.7Q281.4 353.1 281.4 351.7M311.9 311.5Q310.4 312.5 309.5 314.1M297.4 354.6Q298.2 352.7 301.2 350.3M274.2 348.4Q275.0 348.8 278.6 351.4M316.9 321.1Q316.9 322.0 318.2 324.0M314.4 321.3Q317.9 320.0 319.6 318.4M320.6 322.5Q318.2 319.8 317.0 319.0M292.4 355.0Q291.1 357.3 287.0 358.2M317.6 318.7Q318.2 319.3 317.7 322.0M273.4 310.7Q270.6 310.2 268.0 307.8M279.8 307.2Q276.7 306.6 274.3 307.5M294.0 354.9Q296.5 355.8 299.1 357.0M277.0 304.4Q274.1 305.2 273.1 303.4M259.3 334.6Q259.6 338.2 260.6 341.3M257.5 320.4Q259.3 315.0 258.9 312.1M267.2 313.9Q265.6 316.7 263.9 319.0M263.4 338.1Q266.3 339.4 266.6 337.8M274.3 309.4Q273.2 308.0 272.9 304.6M284.4 307.5Q286.3 306.2 289.4 305.6M296.7 353.2Q300.1 349.9 301.5 345.7M262.0 340.8Q261.9 343.4 264.6 344.4M310.3 343.7Q305.5 346.2 303.3 347.2M279.6 352.9Q276.9 353.5 271.2 355.6M265.3 315.3Q263.9 318.9 261.6 322.3M278.8 352.4Q274.2 353.4 271.0 353.9M295.6 307.9Q294.8 313.0 296.7 315.4M260.3 340.0Q262.4 342.6 264.7 343.6M265.8 316.6Q268.0 316.6 269.8 318.8M304.7 349.5Q304.1 352.0 305.2 356.2M288.7 303.7Q289.0 301.4 288.5 299.8M261.0 333.5Q262.5 329.5 264.3 326.3M288.5 354.6Q287.9 358.3 286.7 359.9M304.8 311.6Q304.1 308.9 305.8 306.4M308.8 312.0Q308.0 316.2 306.8 317.8M316.3 314.1Q319.6 315.9 323.0 317.1M304.0 309.4Q307.6 310.8 308.5 309.6" fill="none" stroke="#5b4a7c" stroke-width="0.55" opacity="0.80"/>
<path d="M258.6 324.9C258.9 323.4 259.2 318.8 260.6 316.1C262.0 313.5 264.5 310.8 267.0 309.0C269.5 307.2 271.4 305.7 275.5 305.1C279.6 304.5 287.0 304.8 291.6 305.4C296.2 306.0 299.6 306.9 303.3 308.6C307.0 310.3 311.1 312.4 313.6 315.4C316.2 318.4 318.0 322.6 318.6 326.4C319.2 330.2 318.3 334.5 317.0 338.1C315.7 341.8 313.3 345.4 311.0 348.3C308.7 351.2 306.1 354.1 303.3 355.6C300.6 357.1 297.7 357.6 294.5 357.1C291.3 356.6 287.9 354.4 284.3 352.4C280.7 350.4 276.1 347.6 272.6 345.0C269.1 342.4 265.7 340.0 263.4 336.6C261.1 333.2 259.4 326.8 258.6 324.9Z" fill="url(#gBall)" filter="url(#ballf)"/>
<path d="M309.7 333.9Q312.4 337.6 314.1 339.5M272.8 333.5Q275.9 335.0 279.7 334.3M266.1 323.8Q264.8 325.8 261.3 325.9M284.5 332.8Q281.6 332.8 277.1 332.2M270.0 328.9Q267.1 331.7 266.9 331.9M294.3 321.7Q296.1 320.3 300.2 316.8M264.2 317.6Q263.6 316.4 262.2 313.4M298.1 323.6Q292.7 323.8 289.4 322.0M289.3 325.9Q285.6 324.5 283.8 322.4M306.1 326.6Q309.7 330.4 311.7 331.5M287.6 326.2Q290.4 324.2 295.6 324.4M306.4 338.5Q308.0 342.6 311.9 346.5M284.7 330.7Q291.3 329.6 295.1 330.8M285.6 304.9Q289.3 302.6 294.0 299.1M260.2 329.8Q259.8 324.7 257.3 320.3M287.2 325.0Q288.4 330.7 290.1 335.2M279.6 325.7Q274.6 322.5 270.7 320.3M291.6 335.5Q295.0 332.0 295.7 327.6M297.2 327.6Q297.9 331.6 299.3 332.7M290.9 342.2Q293.0 343.3 294.8 343.7M260.9 327.9Q264.5 323.1 267.7 319.8M304.7 343.9Q306.4 344.4 307.0 347.2M282.4 324.6Q280.2 325.0 278.8 326.5M288.0 335.0Q283.2 331.6 280.2 330.9M286.0 347.6Q284.1 352.4 284.8 356.1M294.2 335.4Q294.1 331.1 293.2 328.1M283.1 321.5Q280.8 322.6 276.0 322.3M263.9 323.0Q260.4 320.4 256.9 317.3M294.9 352.3Q292.1 347.2 288.6 344.9M309.4 343.5Q308.9 337.8 306.1 333.7M307.9 328.0Q306.7 324.2 307.0 320.4M277.8 331.7Q275.2 333.6 273.9 337.6M292.7 319.6Q290.2 323.0 286.5 326.7M279.5 348.5Q279.5 353.6 280.1 355.7M289.7 345.3Q286.6 346.1 285.4 344.6M290.6 322.4Q293.2 327.8 295.2 331.9M296.9 324.9Q290.7 324.2 286.5 324.9M307.4 315.0Q306.0 314.2 302.5 314.5M289.0 321.3Q291.1 324.5 294.0 328.6M274.2 334.3Q268.8 335.6 265.8 335.8M263.5 331.3Q261.6 336.1 261.5 339.7M281.1 316.1Q275.3 315.6 270.5 317.5M286.5 332.5Q289.3 329.8 294.1 326.3M295.8 350.4Q294.3 350.3 292.0 352.6M310.6 315.1Q309.3 311.8 306.3 311.3M297.1 335.5Q302.1 338.6 306.2 339.9M283.5 323.2Q283.7 327.6 282.1 331.3M277.9 348.0Q275.4 350.7 270.8 352.5M270.2 333.5Q272.2 336.8 272.2 340.2M313.4 331.7Q314.8 334.2 315.7 335.2M299.9 337.6Q297.9 337.4 295.2 338.8M282.5 316.6Q280.5 314.7 277.0 315.8M286.3 333.9Q288.1 333.7 289.8 336.0M299.6 337.5Q298.9 335.3 297.3 332.6M310.6 320.0Q315.0 319.3 317.1 319.7M285.5 341.3Q288.8 342.3 294.5 342.6M302.1 333.9Q301.4 338.8 301.9 344.5M286.3 334.5Q283.7 331.5 282.5 329.7M273.8 345.7Q273.8 348.3 274.8 350.5M287.3 334.4Q285.1 338.4 280.6 342.7M281.5 332.1Q278.6 328.5 277.2 324.2M297.7 335.2Q296.9 339.9 295.4 344.5M272.0 335.2Q270.1 336.4 266.2 335.9M278.0 337.1Q280.7 335.1 281.7 335.2M293.1 339.1Q290.9 337.0 288.6 334.8M304.8 322.0Q304.5 325.6 303.8 330.4M288.0 326.8Q291.7 327.0 298.1 326.0M308.8 347.6Q303.7 349.4 300.0 350.3M312.7 333.2Q312.2 335.8 312.1 338.4M295.7 331.3Q293.4 332.8 290.0 336.6M294.1 320.0Q297.2 319.4 300.7 319.6M313.0 340.8Q308.1 338.3 305.2 335.8M286.2 337.9Q282.8 341.1 279.6 343.1M307.4 328.4Q310.4 322.8 310.6 318.2M299.9 314.0Q305.9 315.8 309.6 315.2M276.7 345.6Q278.8 342.1 280.1 339.3M303.6 322.7Q304.0 325.8 303.9 329.7M279.0 344.2Q276.2 347.0 275.9 350.9M300.6 338.2Q297.6 342.6 297.5 344.1M289.3 332.1Q287.7 332.3 285.6 330.0M303.3 334.2Q303.6 330.4 306.2 329.3M280.6 311.0Q279.2 311.6 274.9 313.8M296.2 309.8Q291.1 312.4 287.1 312.6M288.0 313.0Q291.4 308.8 292.6 305.6M268.3 346.3Q266.4 347.1 262.7 348.8M272.5 337.0Q277.1 338.3 280.9 342.2M297.6 334.6Q294.1 337.3 288.9 338.7M286.5 315.6Q290.0 315.8 292.0 319.0M288.7 332.4Q287.2 334.2 285.8 337.9M282.6 328.0Q283.5 324.4 285.0 318.5M279.2 316.5Q275.8 315.0 274.6 311.2M292.3 351.4Q289.8 353.6 286.5 356.7M314.4 328.3Q313.1 331.7 309.6 332.5M284.4 333.7Q280.7 333.2 277.3 332.1M306.7 330.8Q303.6 327.5 303.4 323.7M307.2 320.6Q303.0 320.2 300.5 320.0M295.3 328.0Q291.3 324.6 289.7 322.7M288.2 334.0Q291.7 337.2 296.3 339.4M271.6 330.5Q268.3 330.0 267.6 331.7M297.1 312.7Q300.5 311.9 305.6 310.6M283.1 322.0Q278.1 323.1 274.9 327.0M298.1 323.2Q292.9 319.2 289.6 316.5M283.1 337.0Q281.9 338.6 278.9 337.2M291.7 340.6Q288.2 344.9 285.3 346.9M298.1 326.8Q299.8 329.3 304.2 332.3M297.0 349.4Q293.2 352.9 288.9 354.9M276.3 312.1Q275.5 306.3 275.4 302.5M291.3 350.2Q293.4 351.9 298.2 356.5M286.2 310.7Q287.5 308.2 287.7 304.3M289.3 334.7Q293.0 335.0 295.0 337.0M298.9 314.7Q303.1 314.7 304.6 313.0M298.4 332.0Q301.1 335.5 303.2 336.2M295.7 322.0Q291.0 319.5 289.2 318.3M271.8 329.3Q272.6 327.5 270.5 323.3M286.5 334.7Q287.0 337.7 287.6 341.1M270.9 317.9Q273.2 318.0 275.8 318.2M287.9 310.1Q284.1 313.0 281.6 315.8M300.6 313.4Q305.3 315.2 309.6 314.6M291.3 330.4Q289.1 335.7 287.9 340.7M292.2 343.1Q291.2 340.3 292.7 336.9M291.9 330.9Q292.7 335.0 295.5 336.3M279.1 311.4Q276.4 307.1 276.6 305.8M296.6 337.9Q293.3 338.1 287.4 336.4M270.6 318.4Q276.1 317.6 280.8 315.6M302.3 310.8Q299.8 309.3 294.6 309.0M272.5 350.5Q268.0 348.7 264.3 349.8M266.8 319.9Q263.3 319.4 262.3 321.7M301.2 316.9Q301.3 312.4 304.2 307.6M294.2 337.1Q295.3 339.3 297.4 344.0M297.1 309.2Q292.4 306.7 287.4 306.3M294.8 315.7Q294.1 316.6 291.3 318.8M297.5 328.3Q297.5 333.8 296.2 336.6M286.7 334.2Q287.0 330.7 289.5 328.4M286.3 332.2Q291.4 331.7 296.2 331.5M305.8 332.6Q302.2 336.1 300.6 340.8M289.6 304.7Q287.1 305.5 283.5 303.4M296.7 330.8Q300.5 333.2 302.2 336.6M290.0 326.9Q293.3 328.7 294.6 329.8M308.8 336.4Q311.3 335.0 313.9 331.4M292.3 337.7Q294.5 333.9 295.2 332.7M292.8 341.4Q288.5 339.8 286.8 340.7M294.4 321.7Q292.3 325.4 289.1 329.4M288.4 342.3Q290.0 338.4 293.0 335.5M284.9 306.9Q282.9 310.3 282.4 313.4M265.6 324.8Q270.6 321.5 273.0 318.2M308.5 341.3Q311.2 342.7 313.0 342.8M291.7 321.5Q290.0 318.7 291.2 314.4M281.6 320.3Q280.3 320.8 277.3 322.8M293.7 349.3Q290.7 352.1 287.6 355.0M276.4 320.7Q279.9 321.0 283.1 324.2M317.9 329.9Q315.5 331.8 315.5 334.1M306.7 314.8Q302.6 315.7 297.5 315.1M298.4 322.7Q294.6 323.8 289.3 323.0M307.1 338.1Q307.9 333.4 308.2 329.8M282.9 335.5Q283.8 337.1 287.3 335.7M261.0 324.8Q257.5 324.4 252.5 326.7M284.2 326.7Q287.9 329.0 289.3 329.6M295.3 336.4Q293.0 338.2 291.7 340.6M293.9 305.9Q294.4 311.5 296.6 314.2M300.6 315.2Q299.2 312.5 300.4 308.9M315.8 332.4Q319.6 330.6 325.3 331.2M282.1 307.2Q280.4 304.1 279.8 300.2M284.3 334.3Q280.9 335.6 276.5 335.8M281.9 341.5Q282.5 336.3 281.8 331.0M303.7 331.1Q299.9 331.1 295.8 331.4M273.2 336.4Q270.8 341.9 269.3 345.1M309.9 323.4Q314.8 325.0 317.6 329.3M286.5 310.0Q283.2 313.6 282.8 314.7M273.2 344.5Q274.6 349.0 277.2 353.0M288.0 340.7Q285.8 338.5 284.6 336.9" fill="none" stroke="#7a5a9a" stroke-width="0.55" opacity="0.75"/>
<path d="M340.6 307.4Q341.0 310.0 340.0 311.5M369.4 309.8Q367.2 310.6 366.7 311.3M374.3 324.8Q371.7 322.8 370.9 320.2M360.8 304.5Q361.4 300.4 363.0 298.4M374.5 316.3Q377.0 317.5 377.4 318.2M361.9 301.0Q357.7 300.3 354.2 299.2M364.7 302.8Q367.2 299.2 368.5 298.3M356.5 341.2Q357.1 341.5 360.1 343.2M339.1 306.4Q337.0 309.2 336.3 309.4M339.6 304.5Q340.2 307.0 342.8 310.3M376.9 320.2Q374.9 319.9 370.9 317.9M356.1 340.0Q354.4 343.3 354.4 343.9M369.0 307.6Q368.8 305.4 366.2 303.5M351.5 341.1Q349.8 341.5 347.5 339.5M336.4 333.1Q338.0 331.7 342.0 333.0M371.5 335.3Q370.9 332.4 372.9 330.3M376.3 321.1Q378.5 321.1 383.5 319.8M344.0 302.5Q342.5 305.4 343.3 308.6M329.4 328.2Q331.0 325.7 332.5 325.2M374.6 309.8Q374.0 311.7 372.7 315.7M355.3 300.6Q354.3 297.3 356.3 295.1M378.3 324.4Q380.3 320.6 383.5 319.5M371.6 305.6Q372.6 307.8 376.2 308.4M355.6 302.7Q352.0 304.3 349.9 303.6M334.8 330.6Q330.7 329.2 328.3 329.0M377.0 320.9Q373.3 321.2 371.8 323.1M341.3 339.7Q340.3 342.1 341.8 343.8M356.8 344.3Q357.1 343.5 358.9 341.7M358.1 340.1Q360.7 339.8 363.5 337.8M360.9 303.5Q362.8 304.9 365.2 306.5M350.4 300.1Q351.8 299.4 353.9 299.7M367.3 306.6Q368.0 308.4 369.2 311.5M353.5 344.5Q350.3 344.5 346.7 347.1M378.0 321.5Q382.8 319.8 385.5 320.0M332.5 323.3Q330.8 325.8 329.8 325.3M351.2 343.8Q350.1 346.0 346.3 345.2M331.1 314.1Q333.8 316.2 333.6 317.8M330.3 315.8Q333.1 317.9 335.9 317.9M367.3 340.9Q369.3 342.4 370.8 342.8M355.4 340.5Q357.3 339.5 358.7 337.8M333.3 331.9Q328.6 332.0 325.7 330.8M355.1 341.9Q353.5 340.6 352.9 337.9M373.7 330.7Q376.4 329.8 381.6 330.6M351.1 344.5Q353.4 340.9 356.5 339.5M365.4 302.7Q362.9 298.7 359.4 297.6M362.3 303.5Q359.2 299.0 358.4 296.9M371.5 334.7Q371.7 336.8 370.6 340.7M339.3 306.9Q336.6 306.0 331.8 307.4M334.5 330.7Q338.3 330.1 341.3 330.9M352.2 300.5Q349.6 302.3 349.5 301.9M372.4 309.6Q372.8 306.0 375.4 304.5M344.6 342.9Q346.9 338.5 346.7 335.9M353.6 340.5Q354.0 337.2 355.0 333.2M367.6 340.6Q371.1 338.8 372.8 334.6M377.2 325.0Q376.2 329.4 373.4 331.7M361.5 303.3Q363.0 302.7 362.3 299.9M357.7 343.7Q356.4 343.4 353.3 344.8M374.3 324.5Q374.0 327.0 370.8 330.9M339.5 305.8Q343.7 304.3 345.2 305.1M374.1 318.0Q375.0 317.3 378.3 317.0M350.6 301.9Q348.1 300.4 346.2 298.4M352.8 343.5Q356.7 344.2 360.4 343.6M352.3 299.9Q351.7 300.7 350.1 302.5M343.9 342.4Q342.9 339.9 343.1 338.0M335.9 333.0Q339.0 335.4 339.4 336.7M372.6 309.3Q370.2 311.4 370.8 314.8M332.6 330.7Q330.9 327.6 329.6 326.3M329.0 325.4Q328.3 323.6 330.1 321.7M338.9 306.8Q340.8 302.9 341.7 300.6M359.8 339.1Q361.0 340.6 360.0 344.5M333.4 332.6Q334.5 334.9 335.6 338.7M342.4 306.3Q341.2 302.7 342.4 299.5M364.8 342.3Q362.4 343.1 361.6 341.9M330.1 327.6Q328.4 325.5 326.2 320.7M371.6 308.1Q372.0 305.5 370.5 302.7M372.7 308.3Q369.8 309.1 368.4 309.0M355.8 300.8Q353.0 298.5 352.7 297.6M350.5 341.4Q348.0 341.5 347.0 340.4M348.0 303.6Q345.4 304.3 343.2 306.8M331.7 332.6Q330.0 331.8 326.1 329.3M338.9 334.2Q337.9 338.2 334.8 339.6M332.5 332.4Q328.8 330.7 326.8 330.6M335.0 328.9Q333.0 330.6 331.7 334.3M333.3 325.5Q331.8 324.6 331.0 323.3M376.6 325.3Q377.0 326.9 380.1 329.2M358.7 341.0Q359.6 339.6 359.0 336.1M353.2 340.4Q357.5 340.3 358.9 341.1M339.3 303.6Q338.7 299.9 335.4 298.1M374.1 324.0Q376.5 325.5 378.6 328.6M346.0 300.5Q348.2 302.0 349.0 305.8M364.1 300.6Q364.8 302.1 366.6 302.6M374.9 316.3Q375.1 315.1 374.1 313.0M372.9 334.9Q373.5 333.9 376.4 330.0M357.9 301.9Q355.8 302.5 353.6 304.0M367.8 303.4Q371.3 306.8 374.0 308.2M347.6 301.8Q346.5 298.8 346.8 294.0M331.6 316.7Q327.8 319.0 325.4 319.3M363.4 305.2Q364.9 304.1 366.5 302.3M338.9 334.4Q339.2 333.7 341.2 331.2M340.2 340.8Q338.1 340.0 338.9 336.6M374.0 332.8Q371.2 333.5 367.2 333.3M329.3 322.9Q331.6 323.4 332.7 325.2M333.9 311.4Q332.1 310.4 328.8 310.5M347.2 302.8Q346.3 303.4 347.2 306.4M330.0 316.7Q330.8 319.2 331.6 320.4M376.1 318.5Q374.8 319.4 375.3 322.0M362.1 338.2Q361.4 337.9 357.8 337.3M346.8 303.6Q349.8 301.9 350.5 299.6M331.6 325.5Q333.5 327.0 332.9 328.5M363.2 303.3Q364.6 303.6 368.7 306.1M333.5 314.0Q336.1 314.2 337.1 313.8M358.9 302.8Q356.1 303.5 353.7 302.0M375.1 320.4Q373.6 319.6 370.7 316.2M359.0 340.3Q357.0 337.5 357.0 337.1M375.9 321.9Q373.2 321.3 372.2 319.5M347.0 301.9Q346.4 298.7 344.0 294.8M340.3 302.1Q338.1 304.6 335.1 304.7M362.9 305.0Q364.8 307.2 365.2 308.9M348.5 340.0Q348.6 337.0 346.1 334.0M333.1 322.3Q335.1 322.2 338.1 323.6" fill="none" stroke="#5b4a7c" stroke-width="0.55" opacity="0.80"/>
<path d="M376.9 321.8C376.6 323.2 376.4 327.7 375.2 330.1C373.9 332.6 371.7 334.9 369.5 336.6C367.2 338.4 364.6 339.8 361.9 340.6C359.2 341.5 356.4 341.4 353.5 341.5C350.6 341.7 347.3 342.4 344.7 341.6C342.0 340.8 339.7 338.5 337.6 336.6C335.5 334.7 333.0 332.6 332.0 330.1C330.9 327.6 331.2 324.6 331.2 321.8C331.2 319.0 330.8 315.9 331.9 313.5C333.1 311.1 335.9 309.3 338.0 307.4C340.1 305.4 341.9 302.9 344.5 301.7C347.1 300.5 350.6 300.1 353.5 300.2C356.4 300.4 359.4 301.5 362.1 302.6C364.7 303.7 367.4 305.1 369.6 306.9C371.7 308.7 373.6 311.1 374.8 313.6C376.1 316.1 376.6 320.4 376.9 321.8Z" fill="url(#gBall)" filter="url(#ballf)"/>
<path d="M342.4 328.3Q343.2 325.0 345.7 324.5M355.3 323.1Q358.7 326.6 359.2 329.0M346.0 328.3Q343.6 326.6 343.8 322.8M350.2 318.8Q353.6 318.6 354.3 320.7M338.1 307.1Q341.1 309.1 344.2 308.5M356.3 328.1Q356.9 331.2 356.4 332.4M350.7 322.7Q350.2 318.1 348.8 314.5M360.8 309.3Q356.9 307.3 354.7 305.5M357.9 307.1Q356.4 309.5 352.8 314.5M357.2 326.9Q361.9 327.4 365.7 327.7M363.0 321.3Q363.2 324.5 364.4 325.7M350.8 319.6Q349.2 319.3 346.9 321.3M360.0 334.5Q361.4 331.6 364.0 327.8M353.2 323.8Q352.9 326.9 352.0 331.8M363.8 306.6Q362.2 310.1 362.0 316.2M333.8 320.2Q330.8 317.4 327.9 315.9M350.3 330.8Q344.4 328.7 341.1 328.0M368.1 316.6Q371.5 319.3 374.0 319.5M371.2 331.3Q371.7 329.4 371.9 325.6M354.2 336.9Q351.5 335.9 350.1 335.3M367.2 336.9Q367.5 339.7 367.2 342.3M349.8 329.1Q343.8 330.4 340.3 329.3M368.4 315.9Q370.8 313.6 370.4 309.9M349.1 311.8Q350.6 314.4 350.6 319.9M348.6 332.9Q348.2 333.8 349.7 337.6M360.9 328.1Q356.4 327.0 353.1 328.1M366.7 314.8Q364.4 311.5 363.2 307.5M347.0 334.7Q348.8 331.7 348.7 331.0M357.3 322.0Q354.3 319.2 348.8 318.5M334.3 330.2Q336.9 326.6 341.1 324.4M358.0 327.3Q354.8 328.8 350.7 332.3M358.4 331.2Q361.9 329.6 363.7 326.8M362.4 313.6Q360.8 315.3 357.5 318.3M360.2 338.4Q355.3 337.5 352.4 339.4M355.2 331.7Q359.3 332.1 360.7 332.9M372.0 322.1Q371.6 325.0 370.4 326.9M346.0 335.5Q348.2 331.9 350.3 331.2M346.6 317.5Q343.7 314.5 341.7 310.5M358.8 319.7Q361.1 315.2 360.8 313.2M349.4 325.1Q349.2 329.3 348.9 334.4M356.7 320.9Q361.2 322.4 365.3 321.9M332.1 322.1Q332.0 324.5 329.5 326.7M355.9 322.0Q360.5 321.3 364.2 322.9M358.7 305.5Q355.9 303.4 353.6 300.1M337.4 334.2Q335.3 333.5 330.6 329.9M349.1 320.7Q343.5 319.3 339.7 319.2M352.4 328.0Q352.5 324.7 355.2 321.3M352.6 319.1Q353.8 320.8 353.9 323.0M360.7 322.2Q361.8 325.4 363.3 329.1M352.0 324.1Q350.4 327.8 348.4 331.0M355.2 324.0Q356.0 321.3 355.8 315.8M347.6 336.5Q347.9 340.1 345.8 343.9M336.8 307.9Q335.5 308.6 331.4 308.2M349.9 328.1Q353.6 328.6 354.4 328.7M354.8 315.1Q358.1 311.5 359.2 308.1M365.5 315.3Q367.8 320.2 371.3 322.7M343.6 318.6Q339.3 316.9 337.5 317.9M371.2 331.3Q369.7 333.4 368.8 334.7M339.7 307.1Q335.4 310.0 334.0 315.0M338.2 322.5Q334.5 323.1 330.6 326.8M341.7 330.7Q342.1 333.1 341.5 335.8M375.0 320.1Q373.3 321.9 373.5 324.0M343.7 326.3Q345.9 328.6 348.7 329.3M364.8 331.0Q362.2 333.0 358.5 336.9M350.8 312.9Q351.3 311.1 352.9 309.3M350.7 330.7Q349.4 328.8 345.9 328.2M345.6 302.7Q348.4 305.3 353.1 308.2M369.0 334.9Q369.1 337.1 366.4 341.5M367.9 328.8Q369.4 328.0 372.4 330.1M351.6 324.2Q353.4 323.5 358.0 321.3M355.0 340.3Q356.9 341.8 359.6 341.3M373.4 313.3Q375.3 317.2 375.1 319.3M357.1 320.3Q361.3 321.6 363.4 321.8M339.7 329.2Q334.8 331.5 331.2 332.3M361.7 332.4Q359.8 333.8 359.4 338.0M366.6 329.9Q364.4 326.7 362.6 323.0M359.6 301.7Q357.3 305.4 353.0 307.1M350.2 316.0Q352.3 313.3 353.0 309.2M354.5 324.9Q353.8 319.6 356.0 317.1M339.8 328.3Q342.3 331.6 345.7 334.1M352.5 328.1Q355.3 330.0 357.4 334.6M368.0 333.3Q369.1 339.0 367.4 342.9M356.3 324.7Q356.4 320.6 359.4 319.0M351.9 328.2Q354.7 328.5 360.0 330.1M347.9 306.2Q347.6 303.9 349.3 300.9M359.4 306.5Q359.9 304.5 359.0 300.0M349.6 318.4Q349.1 315.9 351.6 314.6M338.2 336.2Q338.1 332.7 337.6 329.6M365.4 313.5Q363.2 316.8 359.1 320.8M356.8 320.8Q359.2 319.6 361.6 316.1M343.7 326.4Q344.7 331.0 344.4 334.5M364.3 337.2Q361.1 336.3 359.6 337.5M361.4 330.9Q362.8 328.2 361.5 322.7M339.4 308.9Q343.5 307.2 345.5 305.2M354.2 304.3Q355.9 301.0 360.1 300.4M349.6 308.5Q352.0 307.9 352.5 304.3M349.4 322.1Q349.5 320.9 347.7 317.9M338.5 334.8Q334.7 338.5 332.1 341.0M360.5 327.0Q357.8 328.7 353.1 332.7M334.7 326.1Q337.1 326.5 341.4 325.2M358.6 334.1Q356.3 335.9 356.9 338.2M368.0 325.7Q367.9 321.9 367.8 317.3M359.3 315.6Q357.8 315.6 355.3 312.6M345.6 334.7Q347.0 338.1 351.1 343.0M338.4 330.2Q336.6 328.4 334.0 329.1M342.5 339.0Q339.7 338.1 338.5 338.6M361.5 336.2Q361.2 341.3 360.5 344.1M352.3 323.4Q348.6 320.5 347.6 317.7M366.6 338.6Q362.9 337.3 358.4 335.3M355.2 319.5Q352.4 324.0 350.7 326.1M348.6 336.6Q346.2 337.2 341.6 335.1M362.5 320.6Q360.9 320.4 357.7 319.5M340.8 322.7Q338.9 325.2 337.3 326.6M359.9 324.8Q358.8 330.2 357.7 333.2M348.9 324.8Q348.5 326.8 348.1 329.0M341.0 330.0Q339.0 327.3 336.0 326.7M348.1 313.3Q348.6 307.6 349.2 304.3M352.1 319.8Q355.3 320.5 356.8 322.0M350.2 310.4Q349.8 309.1 346.9 308.2M365.4 327.7Q368.2 324.0 370.2 322.8M357.8 328.8Q360.0 329.6 365.3 330.6M351.2 317.2Q355.8 317.8 358.8 317.1M344.3 317.9Q340.6 313.8 337.8 312.8M360.7 318.7Q363.8 317.7 369.7 314.3M342.3 336.8Q343.6 332.8 343.2 331.2M365.1 314.0Q369.1 312.9 371.9 313.1M353.1 324.4Q352.0 318.3 351.4 314.7M359.1 324.4Q358.8 322.6 358.8 318.6M352.2 319.0Q354.8 316.0 359.6 315.6M359.4 317.0Q357.3 316.6 353.7 316.6" fill="none" stroke="#7a5a9a" stroke-width="0.55" opacity="0.75"/>
<linearGradient id="gAr2" gradientUnits="userSpaceOnUse" x1="307" y1="368" x2="375" y2="350"><stop offset="0" stop-color="#e3ad1c" stop-opacity="0.78"/><stop offset="0.7" stop-color="#e9b624" stop-opacity="0.94"/><stop offset="1" stop-color="#f6cf58" stop-opacity="1"/></linearGradient><path d="M306.9 365.2L362.6 352.4L361 346.5L375.2 350.1L366.9 359.6L365.2 356.6L308.6 372Z" fill="url(#gAr2)"/>
<text transform="translate(304.4 286) rotate(-13.5)" font-weight="bold" font-size="10.3" fill="#f0b212">Current</text>
<text transform="translate(326 380.2) rotate(-15)" font-weight="bold" font-size="10.3" fill="#f0b212">Current</text>
<g transform="translate(227.5 307.7) rotate(-15)"><rect x="-5.7" y="-3.8" width="11.4" height="7.6" rx="3.8" fill="url(#gIon)"/><ellipse cx="0.6" cy="-1.5" rx="3.4" ry="1.2" fill="#ffd0e8" opacity="0.4"/></g>
<g transform="translate(252.3 313.5) rotate(-15)"><rect x="-5.7" y="-3.8" width="11.4" height="7.6" rx="3.8" fill="url(#gIon)"/><ellipse cx="0.6" cy="-1.5" rx="3.4" ry="1.2" fill="#ffd0e8" opacity="0.4"/></g>
<g transform="translate(238.9 331.8) rotate(-12)"><rect x="-5.7" y="-3.8" width="11.4" height="7.6" rx="3.8" fill="url(#gIon)"/><ellipse cx="0.6" cy="-1.5" rx="3.4" ry="1.2" fill="#ffd0e8" opacity="0.4"/></g>
<g transform="translate(257.4 349.4) rotate(-20)"><rect x="-5.7" y="-3.8" width="11.4" height="7.6" rx="3.8" fill="url(#gIon)"/><ellipse cx="0.6" cy="-1.5" rx="3.4" ry="1.2" fill="#ffd0e8" opacity="0.4"/></g>
<g transform="translate(282.0 329.4) rotate(-22)"><rect x="-5.7" y="-3.8" width="11.4" height="7.6" rx="3.8" fill="url(#gIon)"/><ellipse cx="0.6" cy="-1.5" rx="3.4" ry="1.2" fill="#ffd0e8" opacity="0.4"/></g>
<g transform="translate(303.2 336.7) rotate(-22)"><rect x="-5.7" y="-3.8" width="11.4" height="7.6" rx="3.8" fill="url(#gIon)"/><ellipse cx="0.6" cy="-1.5" rx="3.4" ry="1.2" fill="#ffd0e8" opacity="0.4"/></g>
<g transform="translate(325.4 341.0) rotate(-25)"><rect x="-5.7" y="-3.8" width="11.4" height="7.6" rx="3.8" fill="url(#gIon)"/><ellipse cx="0.6" cy="-1.5" rx="3.4" ry="1.2" fill="#ffd0e8" opacity="0.4"/></g>
<g transform="translate(291.8 360.1) rotate(-18)"><rect x="-5.7" y="-3.8" width="11.4" height="7.6" rx="3.8" fill="url(#gIon)"/><ellipse cx="0.6" cy="-1.5" rx="3.4" ry="1.2" fill="#ffd0e8" opacity="0.4"/></g>
<g transform="translate(315.0 358.3) rotate(-20)"><rect x="-5.7" y="-3.8" width="11.4" height="7.6" rx="3.8" fill="url(#gIon)"/><ellipse cx="0.6" cy="-1.5" rx="3.4" ry="1.2" fill="#ffd0e8" opacity="0.4"/></g>
<g transform="translate(346.8 349.4) rotate(-20)"><rect x="-5.7" y="-3.8" width="11.4" height="7.6" rx="3.8" fill="url(#gIon)"/><ellipse cx="0.6" cy="-1.5" rx="3.4" ry="1.2" fill="#ffd0e8" opacity="0.4"/></g>
<g transform="translate(328.6 311.5) rotate(-20)"><rect x="-5.7" y="-3.8" width="11.4" height="7.6" rx="3.8" fill="url(#gIon)"/><ellipse cx="0.6" cy="-1.5" rx="3.4" ry="1.2" fill="#ffd0e8" opacity="0.4"/></g>
<g transform="translate(342.0 325.7) rotate(-20)"><rect x="-5.7" y="-3.8" width="11.4" height="7.6" rx="3.8" fill="url(#gIon)"/><ellipse cx="0.6" cy="-1.5" rx="3.4" ry="1.2" fill="#ffd0e8" opacity="0.4"/></g>
<g transform="translate(368.2 330.8) rotate(-15)"><rect x="-5.7" y="-3.8" width="11.4" height="7.6" rx="3.8" fill="url(#gIon)"/><ellipse cx="0.6" cy="-1.5" rx="3.4" ry="1.2" fill="#ffd0e8" opacity="0.4"/></g>
<radialGradient id="gBig" gradientUnits="userSpaceOnUse" cx="488" cy="315" r="68"><stop offset="0" stop-color="#64646c"/><stop offset="0.55" stop-color="#4e4e56"/><stop offset="1" stop-color="#3a3a40"/></radialGradient>
<filter id="bigf" x="-0.05" y="-0.05" width="1.1" height="1.1" color-interpolation-filters="sRGB">
<feTurbulence type="fractalNoise" baseFrequency="0.05" numOctaves="2" seed="8" result="w"/>
<feDisplacementMap in="SourceGraphic" in2="w" scale="5" xChannelSelector="R" yChannelSelector="G" result="shape"/>
<feTurbulence type="fractalNoise" baseFrequency="0.17" numOctaves="2" seed="31" result="n"/>
<feColorMatrix in="n" type="matrix" values="0 0 0 0 0.06  0 0 0 0 0.06  0 0 0 0 0.075  0 -15 0 0 6.4" result="pores"/>
<feGaussianBlur in="pores" stdDeviation="0.35" result="poresb"/>
<feColorMatrix in="n" type="matrix" values="0 0 0 0 0.48  0 0 0 0 0.48  0 0 0 0 0.52  0 0 9 0 -5.2" result="lite"/>
<feTurbulence type="fractalNoise" baseFrequency="0.9" numOctaves="1" seed="3" result="g"/>
<feColorMatrix in="g" type="matrix" values="0 0 0 0 0.1  0 0 0 0 0.1  0 0 0 0 0.12  0 0 -2.2 0 0.95" result="grain"/>
<feComposite in="grain" in2="shape" operator="atop" result="s0"/>
<feComposite in="lite" in2="s0" operator="atop" result="s1"/>
<feComposite in="poresb" in2="s1" operator="atop"/>
</filter>
<path d="M460.8 290.2C459.1 291.7 453.4 294.9 450.6 299.2C447.8 303.5 446.1 310.5 444.2 315.8C442.3 321.1 440.6 326.5 439.1 331.2C437.6 335.9 436.3 340.2 435.2 344.0C434.1 347.8 432.3 351.6 432.7 354.2C433.1 356.8 434.4 357.4 437.8 359.3C441.2 361.2 448.4 363.8 453.1 365.7C457.8 367.6 462.6 370.0 465.9 370.8C469.2 371.6 470.6 370.8 473.0 370.4C475.4 370.0 478.0 367.9 480.0 368.3C482.0 368.7 483.1 371.5 485.0 372.6C486.9 373.8 489.2 374.6 491.5 375.2C493.8 375.8 496.4 376.1 499.0 376.0C501.6 375.9 503.4 376.6 506.9 374.7C510.3 372.8 516.1 368.2 519.7 364.4C523.3 360.5 526.2 357.1 528.6 351.6C531.0 346.1 532.9 337.2 533.8 331.2C534.7 325.2 535.1 320.7 533.8 315.8C532.5 310.9 529.7 305.9 526.1 301.8C522.5 297.8 517.3 293.9 512.0 291.5C506.7 289.1 500.1 287.9 494.1 287.2C488.1 286.5 481.8 286.7 476.2 287.2C470.6 287.7 463.4 289.7 460.8 290.2Z" fill="url(#gBig)" filter="url(#bigf)"/>
<g transform="translate(445.5 290.2) rotate(40)"><rect x="-8.0" y="-4.7" width="16.0" height="9.4" rx="4.7" fill="url(#gIon)"/><ellipse cx="0.8" cy="-1.9" rx="4.8" ry="1.5" fill="#ffd0e8" opacity="0.4"/></g>
<g transform="translate(474.1 295.4) rotate(35)"><rect x="-8.0" y="-4.7" width="16.0" height="9.4" rx="4.7" fill="url(#gIon)"/><ellipse cx="0.8" cy="-1.9" rx="4.8" ry="1.5" fill="#ffd0e8" opacity="0.4"/></g>
<g transform="translate(500.5 292.8) rotate(135)"><rect x="-8.0" y="-4.7" width="16.0" height="9.4" rx="4.7" fill="url(#gIon)"/><ellipse cx="0.8" cy="-1.9" rx="4.8" ry="1.5" fill="#ffd0e8" opacity="0.4"/></g>
<g transform="translate(526.1 291.5) rotate(150)"><rect x="-8.0" y="-4.7" width="16.0" height="9.4" rx="4.7" fill="url(#gIon)"/><ellipse cx="0.8" cy="-1.9" rx="4.8" ry="1.5" fill="#ffd0e8" opacity="0.4"/></g>
<g transform="translate(519.7 317.1) rotate(150)"><rect x="-8.0" y="-4.7" width="16.0" height="9.4" rx="4.7" fill="url(#gIon)"/><ellipse cx="0.8" cy="-1.9" rx="4.8" ry="1.5" fill="#ffd0e8" opacity="0.4"/></g>
<g transform="translate(451.9 328.6) rotate(-15)"><rect x="-8.0" y="-4.7" width="16.0" height="9.4" rx="4.7" fill="url(#gIon)"/><ellipse cx="0.8" cy="-1.9" rx="4.8" ry="1.5" fill="#ffd0e8" opacity="0.4"/></g>
<g transform="translate(500.5 333.2) rotate(40)"><rect x="-8.0" y="-4.7" width="16.0" height="9.4" rx="4.7" fill="url(#gIon)"/><ellipse cx="0.8" cy="-1.9" rx="4.8" ry="1.5" fill="#ffd0e8" opacity="0.4"/></g>
<g transform="translate(450.6 352.9) rotate(-40)"><rect x="-8.0" y="-4.7" width="16.0" height="9.4" rx="4.7" fill="url(#gIon)"/><ellipse cx="0.8" cy="-1.9" rx="4.8" ry="1.5" fill="#ffd0e8" opacity="0.4"/></g>
<g transform="translate(492.4 351.8) rotate(43)"><rect x="-8.0" y="-4.7" width="16.0" height="9.4" rx="4.7" fill="url(#gIon)"/><ellipse cx="0.8" cy="-1.9" rx="4.8" ry="1.5" fill="#ffd0e8" opacity="0.4"/></g>
<g transform="translate(513.3 365.0) rotate(65)"><rect x="-8.0" y="-4.7" width="16.0" height="9.4" rx="4.7" fill="url(#gIon)"/><ellipse cx="0.8" cy="-1.9" rx="4.8" ry="1.5" fill="#ffd0e8" opacity="0.4"/></g>
<g transform="translate(486.8 379.3) rotate(228)"><rect x="-8.0" y="-4.7" width="16.0" height="9.4" rx="4.7" fill="url(#gIon)"/><ellipse cx="0.8" cy="-1.9" rx="4.8" ry="1.5" fill="#ffd0e8" opacity="0.4"/></g>
<text x="40.2" y="407.2" font-weight="bold" font-size="10.5" fill="#111">Slow ion diffusion</text>
<text x="168.4" y="407.2" font-weight="bold" font-size="10.5" fill="#111">Fast ion diffusion &amp; Coherent conductivity</text>
<text x="401.4" y="407.3" font-weight="bold" font-size="10.42" fill="#111">Multi-directional ion diffusion</text>
</g>
</svg>
</body></html>
